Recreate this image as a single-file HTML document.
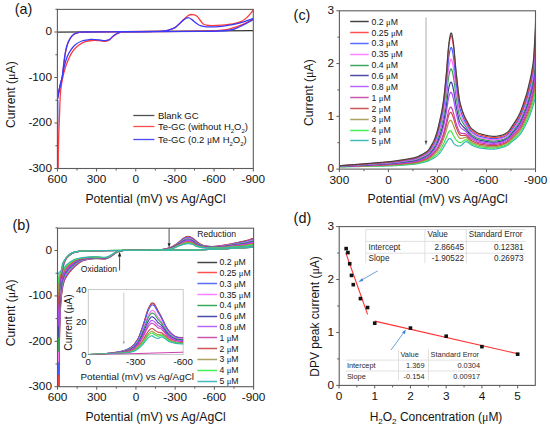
<!DOCTYPE html><html><head><meta charset="utf-8"><style>html,body{margin:0;padding:0;background:#fff;}svg{display:block;}</style></head><body>
<svg width="550" height="429" viewBox="0 0 550 429" font-family='"Liberation Sans", sans-serif'>
<rect width="550" height="429" fill="#ffffff"/>
<clipPath id="ca"><rect x="57.40" y="9.40" width="195.90" height="159.10"/></clipPath>
<g clip-path="url(#ca)">
<line x1="57.40" y1="32.10" x2="253.30" y2="30.60" stroke="#333333" stroke-width="1.3" />
<line x1="57.90" y1="100.00" x2="57.90" y2="170.00" stroke="#4646e6" stroke-width="1.0" />
<path d="M57.20,100.20 C57.47,98.83 58.25,94.70 58.80,92.00 C59.35,89.30 59.92,86.53 60.50,84.00 C61.08,81.47 61.78,79.80 62.30,76.80 C62.82,73.80 63.13,69.63 63.60,66.00 C64.07,62.37 64.55,58.30 65.10,55.00 C65.65,51.70 66.13,48.82 66.90,46.20 C67.67,43.58 68.62,41.22 69.70,39.30 C70.78,37.38 72.00,35.78 73.40,34.70 C74.80,33.62 76.33,33.23 78.10,32.80 C79.87,32.37 77.02,32.27 84.00,32.10 C90.98,31.93 109.00,31.90 120.00,31.80 C131.00,31.70 143.00,31.62 150.00,31.50 C157.00,31.38 158.67,31.42 162.00,31.10 C165.33,30.78 167.83,30.18 170.00,29.60 C172.17,29.02 173.33,28.67 175.00,27.60 C176.67,26.53 178.33,24.77 180.00,23.20 C181.67,21.63 183.50,19.55 185.00,18.20 C186.50,16.85 187.67,15.70 189.00,15.10 C190.33,14.50 191.67,14.42 193.00,14.60 C194.33,14.78 195.83,15.30 197.00,16.20 C198.17,17.10 198.95,18.70 200.00,20.00 C201.05,21.30 201.85,23.08 203.30,24.00 C204.75,24.92 205.62,25.30 208.70,25.50 C211.78,25.70 217.80,25.48 221.80,25.20 C225.80,24.92 229.42,24.43 232.70,23.80 C235.98,23.17 239.13,22.45 241.50,21.40 C243.87,20.35 245.27,18.97 246.90,17.50 C248.53,16.03 250.03,14.18 251.30,12.60 C252.57,11.02 253.97,8.77 254.50,8.00" fill="none" stroke="#ff3b3b" stroke-width="1.3" stroke-linejoin="round" stroke-linecap="round" />
<path d="M58.00,172.00 C58.10,166.67 58.37,149.00 58.60,140.00 C58.83,131.00 59.12,125.50 59.40,118.00 C59.68,110.50 59.93,100.67 60.30,95.00 C60.67,89.33 61.17,87.03 61.60,84.00 C62.03,80.97 62.35,79.30 62.90,76.80 C63.45,74.30 64.22,71.30 64.90,69.00 C65.58,66.70 66.23,65.00 67.00,63.00 C67.77,61.00 68.43,59.10 69.50,57.00 C70.57,54.90 71.82,52.38 73.40,50.40 C74.98,48.42 77.13,46.52 79.00,45.10 C80.87,43.68 82.43,42.67 84.60,41.90 C86.77,41.13 89.52,40.70 92.00,40.50 C94.48,40.30 97.28,40.55 99.50,40.70 C101.72,40.85 103.62,41.53 105.30,41.40 C106.98,41.27 108.15,40.85 109.60,39.90 C111.05,38.95 112.30,36.92 114.00,35.70 C115.70,34.48 117.97,33.23 119.80,32.60 C121.63,31.97 111.63,32.13 125.00,31.90 C138.37,31.67 183.87,31.50 200.00,31.20 C216.13,30.90 216.35,30.65 221.80,30.10 C227.25,29.55 229.07,28.90 232.70,27.90 C236.33,26.90 240.05,25.65 243.60,24.10 C247.15,22.55 252.27,19.52 254.00,18.60" fill="none" stroke="#ff3b3b" stroke-width="1.3" stroke-linejoin="round" stroke-linecap="round" />
<path d="M57.20,100.20 C57.47,98.83 58.25,94.70 58.80,92.00 C59.35,89.30 59.92,86.53 60.50,84.00 C61.08,81.47 61.80,79.80 62.30,76.80 C62.80,73.80 63.07,69.63 63.50,66.00 C63.93,62.37 64.33,58.37 64.90,55.00 C65.47,51.63 66.10,48.45 66.90,45.80 C67.70,43.15 68.62,41.00 69.70,39.10 C70.78,37.20 72.00,35.48 73.40,34.40 C74.80,33.32 76.33,33.00 78.10,32.60 C79.87,32.20 77.02,32.15 84.00,32.00 C90.98,31.85 107.00,31.85 120.00,31.70 C133.00,31.55 153.67,31.45 162.00,31.10 C170.33,30.75 167.83,30.18 170.00,29.60 C172.17,29.02 173.33,28.67 175.00,27.60 C176.67,26.53 178.50,24.53 180.00,23.20 C181.50,21.87 182.67,20.53 184.00,19.60 C185.33,18.67 186.67,17.60 188.00,17.60 C189.33,17.60 190.67,18.70 192.00,19.60 C193.33,20.50 194.67,22.02 196.00,23.00 C197.33,23.98 198.25,24.87 200.00,25.50 C201.75,26.13 202.87,26.67 206.50,26.80 C210.13,26.93 217.43,26.67 221.80,26.30 C226.17,25.93 229.07,25.33 232.70,24.60 C236.33,23.87 240.05,22.97 243.60,21.90 C247.15,20.83 252.27,18.82 254.00,18.20" fill="none" stroke="#3b3bff" stroke-width="1.3" stroke-linejoin="round" stroke-linecap="round" />
<path d="M57.20,99.60 C57.40,98.58 57.88,95.93 58.40,93.50 C58.92,91.07 59.65,87.78 60.30,85.00 C60.95,82.22 61.63,79.97 62.30,76.80 C62.97,73.63 63.47,69.38 64.30,66.00 C65.13,62.62 66.25,59.12 67.30,56.50 C68.35,53.88 69.27,52.27 70.60,50.30 C71.93,48.33 73.43,46.25 75.30,44.70 C77.17,43.15 79.47,41.85 81.80,41.00 C84.13,40.15 87.60,39.87 89.30,39.60 C91.00,39.33 90.30,39.33 92.00,39.40 C93.70,39.47 97.28,39.80 99.50,40.00 C101.72,40.20 103.62,40.72 105.30,40.60 C106.98,40.48 108.15,40.20 109.60,39.30 C111.05,38.40 112.30,36.35 114.00,35.20 C115.70,34.05 117.97,32.95 119.80,32.40 C121.63,31.85 111.63,32.07 125.00,31.90 C138.37,31.73 182.95,31.63 200.00,31.40 C217.05,31.17 220.93,31.17 227.30,30.50 C233.67,29.83 233.75,29.27 238.20,27.40 C242.65,25.53 251.37,20.65 254.00,19.30" fill="none" stroke="#3b3bff" stroke-width="1.3" stroke-linejoin="round" stroke-linecap="round" />
</g>
<rect x="57.40" y="9.40" width="195.90" height="159.10" fill="none" stroke="#5c5c5c" stroke-width="1.1"/>
<line x1="57.40" y1="168.50" x2="57.40" y2="171.50" stroke="#5c5c5c" stroke-width="1.0" />
<text x="57.40" y="182.90" font-size="11.8" text-anchor="middle" fill="#151515" >600</text>
<line x1="96.58" y1="168.50" x2="96.58" y2="171.50" stroke="#5c5c5c" stroke-width="1.0" />
<text x="96.58" y="182.90" font-size="11.8" text-anchor="middle" fill="#151515" >300</text>
<line x1="135.76" y1="168.50" x2="135.76" y2="171.50" stroke="#5c5c5c" stroke-width="1.0" />
<text x="135.76" y="182.90" font-size="11.8" text-anchor="middle" fill="#151515" >0</text>
<line x1="174.94" y1="168.50" x2="174.94" y2="171.50" stroke="#5c5c5c" stroke-width="1.0" />
<text x="174.94" y="182.90" font-size="11.8" text-anchor="middle" fill="#151515" >-300</text>
<line x1="214.12" y1="168.50" x2="214.12" y2="171.50" stroke="#5c5c5c" stroke-width="1.0" />
<text x="214.12" y="182.90" font-size="11.8" text-anchor="middle" fill="#151515" >-600</text>
<line x1="253.30" y1="168.50" x2="253.30" y2="171.50" stroke="#5c5c5c" stroke-width="1.0" />
<text x="253.30" y="182.90" font-size="11.8" text-anchor="middle" fill="#151515" >-900</text>
<line x1="76.99" y1="168.50" x2="76.99" y2="170.50" stroke="#5c5c5c" stroke-width="1.0" />
<line x1="116.17" y1="168.50" x2="116.17" y2="170.50" stroke="#5c5c5c" stroke-width="1.0" />
<line x1="155.35" y1="168.50" x2="155.35" y2="170.50" stroke="#5c5c5c" stroke-width="1.0" />
<line x1="194.53" y1="168.50" x2="194.53" y2="170.50" stroke="#5c5c5c" stroke-width="1.0" />
<line x1="233.71" y1="168.50" x2="233.71" y2="170.50" stroke="#5c5c5c" stroke-width="1.0" />
<line x1="54.40" y1="32.00" x2="57.40" y2="32.00" stroke="#5c5c5c" stroke-width="1.0" />
<text x="52.00" y="35.20" font-size="11.8" text-anchor="end" fill="#151515" >0</text>
<line x1="54.40" y1="77.50" x2="57.40" y2="77.50" stroke="#5c5c5c" stroke-width="1.0" />
<text x="52.00" y="80.70" font-size="11.8" text-anchor="end" fill="#151515" >-100</text>
<line x1="54.40" y1="123.00" x2="57.40" y2="123.00" stroke="#5c5c5c" stroke-width="1.0" />
<text x="52.00" y="126.20" font-size="11.8" text-anchor="end" fill="#151515" >-200</text>
<line x1="54.40" y1="168.50" x2="57.40" y2="168.50" stroke="#5c5c5c" stroke-width="1.0" />
<text x="52.00" y="171.70" font-size="11.8" text-anchor="end" fill="#151515" >-300</text>
<line x1="55.40" y1="9.25" x2="57.40" y2="9.25" stroke="#5c5c5c" stroke-width="1.0" />
<line x1="55.40" y1="54.75" x2="57.40" y2="54.75" stroke="#5c5c5c" stroke-width="1.0" />
<line x1="55.40" y1="100.25" x2="57.40" y2="100.25" stroke="#5c5c5c" stroke-width="1.0" />
<line x1="55.40" y1="145.75" x2="57.40" y2="145.75" stroke="#5c5c5c" stroke-width="1.0" />
<text x="155.50" y="203.00" font-size="12.2" text-anchor="middle" fill="#151515" >Potential (mV) vs Ag/AgCl</text>
<text transform="translate(15.2,94.6) rotate(-90)" font-size="12.2" text-anchor="middle" fill="#151515">Current (<tspan font-family="Liberation Serif, serif">&#956;</tspan>A)</text>
<text x="14.70" y="13.50" font-size="14.4" text-anchor="start" fill="#151515" >(a)</text>
<line x1="133.30" y1="115.50" x2="154.40" y2="115.50" stroke="#505050" stroke-width="1.3" />
<line x1="133.30" y1="126.50" x2="154.40" y2="126.50" stroke="#ff4a4a" stroke-width="1.3" />
<line x1="133.30" y1="139.50" x2="154.40" y2="139.50" stroke="#4a4aff" stroke-width="1.3" />
<text x="157.90" y="118.70" font-size="9.5" text-anchor="start" fill="#151515" >Blank GC</text>
<text x="157.90" y="130.20" font-size="9.5" text-anchor="start" fill="#151515" >Te-GC (without H<tspan font-size="6" dy="2.5">2</tspan><tspan dy="-2.5">O</tspan><tspan font-size="6" dy="2.5">2</tspan><tspan dy="-2.5">)</tspan></text>
<text x="157.90" y="143.30" font-size="9.5" text-anchor="start" fill="#151515" >Te-GC (0.2 <tspan font-family="Liberation Serif, serif">&#956;</tspan>M H<tspan font-size="6" dy="2.5">2</tspan><tspan dy="-2.5">O</tspan><tspan font-size="6" dy="2.5">2</tspan><tspan dy="-2.5">)</tspan></text>
<clipPath id="cb"><rect x="57.50" y="228.20" width="196.10" height="158.50"/></clipPath>
<g clip-path="url(#cb)">
<path d="M59.00,390.00 C59.08,381.67 59.22,354.17 59.50,340.00 C59.78,325.83 60.25,313.33 60.70,305.00 C61.15,296.67 61.62,294.00 62.20,290.00 C62.78,286.00 63.32,283.50 64.20,281.00 C65.08,278.50 66.28,276.83 67.50,275.00 C68.72,273.17 70.13,271.55 71.50,270.00 C72.87,268.45 73.95,267.20 75.70,265.70 C77.45,264.20 79.62,262.13 82.00,261.00 C84.38,259.87 87.57,259.30 90.00,258.90 C92.43,258.50 93.93,258.62 96.60,258.60 C99.27,258.58 103.50,259.23 106.00,258.80 C108.50,258.37 109.77,257.10 111.60,256.00 C113.43,254.90 115.13,253.08 117.00,252.20 C118.87,251.32 120.63,251.00 122.80,250.70 C124.97,250.40 117.13,250.58 130.00,250.40 C142.87,250.22 179.33,250.17 200.00,249.60 C220.67,249.03 245.00,247.43 254.00,247.00" fill="none" stroke="#444444" stroke-width="1.1" stroke-linejoin="round" stroke-linecap="round" />
<path d="M58.97,387.19 C59.06,379.06 59.20,352.24 59.49,338.42 C59.77,324.59 60.24,312.39 60.69,304.25 C61.15,296.10 61.62,293.46 62.20,289.54 C62.78,285.61 63.32,283.14 64.19,280.67 C65.07,278.21 66.26,276.56 67.47,274.75 C68.69,272.94 70.10,271.33 71.46,269.80 C72.82,268.27 73.90,267.04 75.63,265.56 C77.37,264.09 79.47,262.06 81.87,260.94 C84.26,259.82 87.54,259.25 90.00,258.85 C92.46,258.45 93.93,258.57 96.60,258.55 C99.27,258.54 103.50,259.19 106.00,258.76 C108.50,258.33 109.77,257.07 111.60,255.97 C113.43,254.87 115.13,253.06 117.00,252.18 C118.87,251.30 120.63,250.99 122.80,250.69 C124.97,250.40 117.13,250.58 130.00,250.40 C142.87,250.22 179.33,250.17 200.00,249.61 C220.67,249.04 245.00,247.44 254.00,247.01" fill="none" stroke="#ff4040" stroke-width="1.1" stroke-linejoin="round" stroke-linecap="round" />
<path d="M58.85,374.80 C58.95,367.58 59.13,343.76 59.43,331.45 C59.74,319.14 60.21,308.26 60.67,300.93 C61.13,293.60 61.62,291.11 62.20,287.49 C62.78,283.87 63.31,281.54 64.17,279.24 C65.03,276.93 66.18,275.36 67.36,273.64 C68.55,271.93 69.94,270.39 71.27,268.94 C72.60,267.50 73.66,266.34 75.33,264.97 C77.00,263.59 78.85,261.74 81.29,260.69 C83.74,259.63 87.45,259.02 90.00,258.63 C92.55,258.24 93.93,258.36 96.60,258.36 C99.27,258.35 103.50,259.02 106.00,258.60 C108.50,258.18 109.77,256.92 111.60,255.84 C113.43,254.75 115.13,252.95 117.00,252.09 C118.87,251.23 120.63,250.94 122.80,250.66 C124.97,250.38 117.13,250.56 130.00,250.39 C142.87,250.22 179.33,250.20 200.00,249.64 C220.67,249.08 245.00,247.46 254.00,247.03" fill="none" stroke="#4a5cff" stroke-width="1.1" stroke-linejoin="round" stroke-linecap="round" />
<path d="M58.73,362.42 C58.84,356.10 59.06,335.29 59.38,324.49 C59.70,313.69 60.18,304.12 60.65,297.61 C61.12,291.11 61.62,288.75 62.20,285.44 C62.78,282.14 63.31,279.95 64.15,277.80 C64.99,275.65 66.10,274.16 67.25,272.54 C68.41,270.92 69.78,269.44 71.08,268.08 C72.38,266.72 73.43,265.64 75.04,264.37 C76.64,263.10 78.23,261.43 80.72,260.43 C83.21,259.44 87.35,258.79 90.00,258.41 C92.65,258.03 93.93,258.15 96.60,258.16 C99.27,258.16 103.50,258.84 106.00,258.43 C108.50,258.02 109.77,256.78 111.60,255.70 C113.43,254.63 115.13,252.85 117.00,252.00 C118.87,251.16 120.63,250.90 122.80,250.63 C124.97,250.35 117.13,250.53 130.00,250.38 C142.87,250.22 179.33,250.23 200.00,249.67 C220.67,249.12 245.00,247.49 254.00,247.05" fill="none" stroke="#ff70ff" stroke-width="1.1" stroke-linejoin="round" stroke-linecap="round" />
<path d="M58.63,352.29 C58.75,346.71 59.00,328.35 59.33,318.79 C59.67,309.22 60.15,300.74 60.63,294.90 C61.11,289.06 61.62,286.82 62.20,283.77 C62.78,280.73 63.31,278.65 64.13,276.62 C64.96,274.60 66.03,273.17 67.16,271.63 C68.30,270.09 69.66,268.67 70.93,267.37 C72.20,266.08 73.24,265.07 74.79,263.88 C76.34,262.69 77.71,261.17 80.25,260.23 C82.78,259.28 87.27,258.60 90.00,258.23 C92.73,257.85 93.93,257.98 96.60,257.99 C99.27,258.01 103.50,258.69 106.00,258.29 C108.50,257.90 109.77,256.66 111.60,255.60 C113.43,254.54 115.13,252.76 117.00,251.93 C118.87,251.10 120.63,250.86 122.80,250.60 C124.97,250.34 117.13,250.52 130.00,250.37 C142.87,250.22 179.33,250.25 200.00,249.70 C220.67,249.15 245.00,247.51 254.00,247.07" fill="none" stroke="#2fa34f" stroke-width="1.1" stroke-linejoin="round" stroke-linecap="round" />
<path d="M58.49,338.22 C58.62,333.66 58.92,318.72 59.27,310.87 C59.62,303.03 60.12,296.04 60.61,291.13 C61.10,286.23 61.62,284.14 62.20,281.45 C62.78,278.76 63.30,276.84 64.11,274.99 C64.91,273.14 65.94,271.81 67.04,270.38 C68.14,268.94 69.48,267.59 70.71,266.39 C71.95,265.20 72.97,264.28 74.45,263.20 C75.93,262.13 77.00,260.81 79.60,259.94 C82.19,259.07 87.17,258.34 90.00,257.98 C92.83,257.61 93.93,257.75 96.60,257.77 C99.27,257.79 103.50,258.49 106.00,258.11 C108.50,257.72 109.77,256.49 111.60,255.45 C113.43,254.40 115.13,252.64 117.00,251.83 C118.87,251.02 120.63,250.81 122.80,250.56 C124.97,250.32 117.13,250.49 130.00,250.35 C142.87,250.22 179.33,250.28 200.00,249.74 C220.67,249.20 245.00,247.53 254.00,247.09" fill="none" stroke="#3f3fa6" stroke-width="1.1" stroke-linejoin="round" stroke-linecap="round" />
<path d="M58.39,327.53 C58.53,323.75 58.85,311.40 59.22,304.86 C59.59,298.32 60.09,292.46 60.59,288.27 C61.08,284.07 61.62,282.10 62.20,279.68 C62.78,277.26 63.30,275.46 64.09,273.75 C64.88,272.04 65.86,270.77 66.94,269.42 C68.02,268.07 69.34,266.77 70.55,265.65 C71.76,264.53 72.77,263.68 74.19,262.69 C75.62,261.70 76.47,260.53 79.10,259.72 C81.73,258.90 87.08,258.14 90.00,257.78 C92.92,257.43 93.93,257.57 96.60,257.60 C99.27,257.63 103.50,258.34 106.00,257.96 C108.50,257.59 109.77,256.37 111.60,255.33 C113.43,254.30 115.13,252.55 117.00,251.75 C118.87,250.95 120.63,250.77 122.80,250.53 C124.97,250.30 117.13,250.47 130.00,250.34 C142.87,250.22 179.33,250.31 200.00,249.77 C220.67,249.23 245.00,247.55 254.00,247.11" fill="none" stroke="#b04cff" stroke-width="1.1" stroke-linejoin="round" stroke-linecap="round" />
<path d="M58.23,311.77 C58.38,309.14 58.76,300.62 59.15,295.99 C59.54,291.37 60.05,287.20 60.56,284.05 C61.07,280.89 61.62,279.10 62.20,277.08 C62.78,275.06 63.29,273.43 64.06,271.92 C64.83,270.41 65.76,269.24 66.80,268.02 C67.84,266.79 69.14,265.57 70.31,264.55 C71.48,263.54 72.47,262.79 73.81,261.93 C75.16,261.07 75.67,260.13 78.37,259.39 C81.07,258.66 86.96,257.84 90.00,257.50 C93.04,257.16 93.93,257.30 96.60,257.34 C99.27,257.38 103.50,258.12 106.00,257.75 C108.50,257.39 109.77,256.18 111.60,255.16 C113.43,254.14 115.13,252.42 117.00,251.64 C118.87,250.86 120.63,250.71 122.80,250.49 C124.97,250.27 117.13,250.44 130.00,250.33 C142.87,250.22 179.33,250.34 200.00,249.81 C220.67,249.28 245.00,247.58 254.00,247.14" fill="none" stroke="#cc3fae" stroke-width="1.1" stroke-linejoin="round" stroke-linecap="round" />
<path d="M58.18,306.14 C58.33,303.92 58.73,296.76 59.13,292.83 C59.52,288.90 60.04,285.32 60.55,282.54 C61.06,279.76 61.62,278.03 62.20,276.15 C62.78,274.27 63.29,272.71 64.05,271.27 C64.81,269.83 65.72,268.70 66.75,267.51 C67.78,266.33 69.07,265.14 70.23,264.16 C71.38,263.18 72.37,262.47 73.68,261.66 C74.99,260.84 75.39,259.99 78.11,259.28 C80.83,258.57 86.92,257.74 90.00,257.40 C93.08,257.06 93.93,257.21 96.60,257.25 C99.27,257.30 103.50,258.04 106.00,257.68 C108.50,257.32 109.77,256.11 111.60,255.10 C113.43,254.09 115.13,252.37 117.00,251.60 C118.87,250.83 120.63,250.69 122.80,250.48 C124.97,250.26 117.13,250.43 130.00,250.33 C142.87,250.22 179.33,250.35 200.00,249.82 C220.67,249.30 245.00,247.60 254.00,247.15" fill="none" stroke="#c84848" stroke-width="1.1" stroke-linejoin="round" stroke-linecap="round" />
<path d="M58.09,297.70 C58.26,296.10 58.68,290.98 59.09,288.08 C59.49,285.18 60.02,282.50 60.54,280.28 C61.05,278.06 61.62,276.42 62.20,274.75 C62.78,273.09 63.29,271.62 64.04,270.29 C64.78,268.95 65.67,267.88 66.68,266.76 C67.69,265.64 68.97,264.49 70.10,263.57 C71.23,262.65 72.21,261.99 73.47,261.25 C74.74,260.51 74.96,259.77 77.71,259.10 C80.47,258.44 86.85,257.58 90.00,257.25 C93.15,256.92 93.93,257.06 96.60,257.12 C99.27,257.17 103.50,257.91 106.00,257.56 C108.50,257.21 109.77,256.01 111.60,255.01 C113.43,254.01 115.13,252.30 117.00,251.54 C118.87,250.78 120.63,250.66 122.80,250.45 C124.97,250.25 117.13,250.42 130.00,250.32 C142.87,250.22 179.33,250.37 200.00,249.85 C220.67,249.32 245.00,247.61 254.00,247.16" fill="none" stroke="#a89a4a" stroke-width="1.1" stroke-linejoin="round" stroke-linecap="round" />
<path d="M57.98,286.44 C58.16,285.66 58.62,283.28 59.04,281.75 C59.46,280.22 59.99,278.74 60.52,277.26 C61.04,275.79 61.62,274.27 62.20,272.89 C62.78,271.51 63.29,270.17 64.02,268.98 C64.74,267.79 65.59,266.79 66.58,265.75 C67.56,264.72 68.82,263.63 69.93,262.79 C71.03,261.95 71.99,261.36 73.20,260.71 C74.41,260.05 74.39,259.48 77.19,258.87 C79.99,258.26 86.77,257.37 90.00,257.05 C93.23,256.73 93.93,256.88 96.60,256.94 C99.27,257.00 103.50,257.75 106.00,257.41 C108.50,257.07 109.77,255.88 111.60,254.89 C113.43,253.90 115.13,252.20 117.00,251.46 C118.87,250.72 120.63,250.61 122.80,250.42 C124.97,250.23 117.13,250.40 130.00,250.31 C142.87,250.22 179.33,250.40 200.00,249.88 C220.67,249.36 245.00,247.63 254.00,247.18" fill="none" stroke="#3ee84a" stroke-width="1.1" stroke-linejoin="round" stroke-linecap="round" />
<path d="M57.90,278.00 C58.08,277.83 58.57,277.50 59.00,277.00 C59.43,276.50 59.97,275.92 60.50,275.00 C61.03,274.08 61.62,272.67 62.20,271.50 C62.78,270.33 63.28,269.08 64.00,268.00 C64.72,266.92 65.53,265.97 66.50,265.00 C67.47,264.03 68.72,262.98 69.80,262.20 C70.88,261.42 71.83,260.88 73.00,260.30 C74.17,259.72 73.97,259.27 76.80,258.70 C79.63,258.13 86.70,257.22 90.00,256.90 C93.30,256.58 93.93,256.73 96.60,256.80 C99.27,256.87 103.50,257.63 106.00,257.30 C108.50,256.97 109.77,255.78 111.60,254.80 C113.43,253.82 115.13,252.13 117.00,251.40 C118.87,250.67 120.63,250.58 122.80,250.40 C124.97,250.22 117.13,250.38 130.00,250.30 C142.87,250.22 179.33,250.42 200.00,249.90 C220.67,249.38 245.00,247.65 254.00,247.20" fill="none" stroke="#36b3b3" stroke-width="1.1" stroke-linejoin="round" stroke-linecap="round" />
<path d="M58.60,390.00 C58.67,381.67 58.78,355.00 59.00,340.00 C59.22,325.00 59.50,310.00 59.90,300.00 C60.30,290.00 60.95,285.00 61.40,280.00 C61.85,275.00 62.13,272.83 62.60,270.00 C63.07,267.17 63.43,265.08 64.20,263.00 C64.97,260.92 65.73,259.17 67.20,257.50 C68.67,255.83 70.87,254.03 73.00,253.00 C75.13,251.97 77.17,251.67 80.00,251.30 C82.83,250.93 83.33,250.93 90.00,250.80 C96.67,250.67 107.50,250.63 120.00,250.50 C132.50,250.37 157.50,250.08 165.00,250.00" fill="none" stroke="#444444" stroke-width="1.1" stroke-linejoin="round" stroke-linecap="round" />
<path d="M58.58,387.11 C58.65,378.98 58.77,352.95 58.99,338.32 C59.21,323.68 59.49,309.06 59.89,299.30 C60.29,289.54 60.94,284.66 61.39,279.76 C61.84,274.87 62.12,272.72 62.58,269.92 C63.05,267.13 63.40,265.08 64.16,263.01 C64.93,260.94 65.71,259.17 67.18,257.50 C68.65,255.83 70.85,254.03 72.98,252.99 C75.11,251.96 77.14,251.67 79.98,251.30 C82.82,250.93 83.33,250.93 90.00,250.80 C96.67,250.66 107.50,250.63 120.00,250.50 C132.50,250.36 157.50,250.09 165.00,250.00" fill="none" stroke="#ff4040" stroke-width="1.1" stroke-linejoin="round" stroke-linecap="round" />
<path d="M58.51,374.40 C58.58,367.15 58.74,343.94 58.96,330.91 C59.18,317.88 59.45,304.90 59.85,296.20 C60.25,287.50 60.91,283.15 61.36,278.71 C61.80,274.28 62.08,272.20 62.52,269.59 C62.96,266.98 63.25,265.06 64.01,263.04 C64.77,261.03 65.60,259.18 67.08,257.50 C68.56,255.82 70.76,254.01 72.89,252.97 C75.03,251.94 77.04,251.66 79.89,251.30 C82.74,250.94 83.32,250.92 90.00,250.79 C96.68,250.65 107.50,250.62 120.00,250.49 C132.50,250.36 157.50,250.09 165.00,250.01" fill="none" stroke="#4a5cff" stroke-width="1.1" stroke-linejoin="round" stroke-linecap="round" />
<path d="M58.43,361.68 C58.51,355.32 58.70,334.93 58.93,323.50 C59.16,312.07 59.40,300.75 59.80,293.11 C60.20,285.47 60.88,281.63 61.33,277.66 C61.77,273.69 62.03,271.69 62.45,269.26 C62.87,266.83 63.10,265.03 63.86,263.07 C64.61,261.11 65.49,259.19 66.98,257.50 C68.47,255.81 70.67,253.98 72.80,252.95 C74.94,251.92 76.94,251.66 79.80,251.30 C82.67,250.94 83.30,250.91 90.00,250.78 C96.70,250.64 107.50,250.60 120.00,250.48 C132.50,250.35 157.50,250.10 165.00,250.02" fill="none" stroke="#ff70ff" stroke-width="1.1" stroke-linejoin="round" stroke-linecap="round" />
<path d="M58.36,351.28 C58.45,345.64 58.67,327.56 58.90,317.44 C59.13,307.32 59.37,297.35 59.77,290.57 C60.17,283.80 60.86,280.40 61.30,276.80 C61.74,273.20 61.99,271.27 62.40,268.99 C62.80,266.71 62.98,265.02 63.73,263.10 C64.48,261.19 65.40,259.19 66.90,257.50 C68.40,255.81 70.59,253.97 72.73,252.93 C74.87,251.90 76.85,251.66 79.73,251.30 C82.61,250.94 83.29,250.91 90.00,250.77 C96.71,250.63 107.50,250.59 120.00,250.47 C132.50,250.34 157.50,250.11 165.00,250.03" fill="none" stroke="#2fa34f" stroke-width="1.1" stroke-linejoin="round" stroke-linecap="round" />
<path d="M58.28,336.83 C58.37,332.20 58.62,317.32 58.86,309.03 C59.10,300.73 59.32,292.62 59.72,287.06 C60.12,281.49 60.83,278.68 61.26,275.61 C61.70,272.53 61.94,270.69 62.32,268.61 C62.70,266.53 62.81,264.99 63.55,263.14 C64.30,261.29 65.27,259.21 66.78,257.50 C68.30,255.79 70.49,253.94 72.63,252.91 C74.77,251.87 76.74,251.66 79.63,251.30 C82.53,250.94 83.27,250.89 90.00,250.75 C96.73,250.61 107.50,250.57 120.00,250.45 C132.50,250.34 157.50,250.11 165.00,250.05" fill="none" stroke="#3f3fa6" stroke-width="1.1" stroke-linejoin="round" stroke-linecap="round" />
<path d="M58.21,325.85 C58.31,321.98 58.59,309.54 58.83,302.63 C59.08,295.72 59.28,289.04 59.68,284.38 C60.08,279.73 60.80,277.38 61.23,274.70 C61.66,272.03 61.90,270.25 62.27,268.33 C62.63,266.40 62.68,264.97 63.42,263.17 C64.16,261.36 65.18,259.21 66.70,257.50 C68.22,255.79 70.41,253.92 72.55,252.89 C74.70,251.86 76.65,251.66 79.55,251.30 C82.46,250.94 83.26,250.89 90.00,250.74 C96.74,250.60 107.50,250.56 120.00,250.44 C132.50,250.33 157.50,250.12 165.00,250.06" fill="none" stroke="#b04cff" stroke-width="1.1" stroke-linejoin="round" stroke-linecap="round" />
<path d="M58.11,309.67 C58.22,306.93 58.54,298.07 58.79,293.20 C59.04,288.33 59.22,283.75 59.62,280.44 C60.02,277.14 60.76,275.45 61.19,273.36 C61.62,271.27 61.84,269.60 62.18,267.90 C62.52,266.21 62.49,264.94 63.22,263.21 C63.95,261.48 65.03,259.22 66.57,257.50 C68.11,255.78 70.30,253.89 72.44,252.86 C74.59,251.83 76.51,251.66 79.44,251.30 C82.37,250.94 83.24,250.88 90.00,250.73 C96.76,250.59 107.50,250.54 120.00,250.43 C132.50,250.32 157.50,250.13 165.00,250.07" fill="none" stroke="#cc3fae" stroke-width="1.1" stroke-linejoin="round" stroke-linecap="round" />
<path d="M58.08,303.89 C58.19,301.55 58.52,293.98 58.78,289.83 C59.03,285.69 59.20,281.86 59.60,279.04 C60.00,276.21 60.75,274.77 61.18,272.89 C61.60,271.01 61.82,269.36 62.15,267.75 C62.48,266.14 62.42,264.93 63.15,263.22 C63.88,261.52 64.98,259.23 66.53,257.50 C68.07,255.77 70.26,253.88 72.40,252.85 C74.55,251.82 76.47,251.65 79.40,251.30 C82.33,250.95 83.23,250.87 90.00,250.73 C96.77,250.58 107.50,250.53 120.00,250.43 C132.50,250.32 157.50,250.13 165.00,250.07" fill="none" stroke="#c84848" stroke-width="1.1" stroke-linejoin="round" stroke-linecap="round" />
<path d="M58.02,295.23 C58.14,293.49 58.49,287.83 58.75,284.78 C59.01,281.73 59.17,279.03 59.57,276.92 C59.97,274.82 60.73,273.74 61.15,272.17 C61.58,270.60 61.79,269.01 62.11,267.53 C62.42,266.04 62.32,264.92 63.05,263.25 C63.77,261.58 64.91,259.24 66.46,257.50 C68.01,255.76 70.19,253.87 72.34,252.84 C74.49,251.80 76.40,251.65 79.34,251.30 C82.28,250.95 83.22,250.86 90.00,250.72 C96.78,250.57 107.50,250.52 120.00,250.42 C132.50,250.31 157.50,250.14 165.00,250.08" fill="none" stroke="#a89a4a" stroke-width="1.1" stroke-linejoin="round" stroke-linecap="round" />
<path d="M57.95,283.67 C58.08,282.73 58.46,279.64 58.72,278.05 C58.99,276.46 59.13,275.25 59.53,274.11 C59.93,272.97 60.70,272.36 61.12,271.22 C61.54,270.07 61.75,268.55 62.05,267.23 C62.34,265.90 62.19,264.90 62.91,263.28 C63.63,261.66 64.81,259.24 66.37,257.50 C67.93,255.76 70.11,253.85 72.26,252.82 C74.41,251.78 76.30,251.65 79.26,251.30 C82.22,250.95 83.21,250.86 90.00,250.71 C96.79,250.56 107.50,250.51 120.00,250.41 C132.50,250.31 157.50,250.14 165.00,250.09" fill="none" stroke="#3ee84a" stroke-width="1.1" stroke-linejoin="round" stroke-linecap="round" />
<path d="M57.90,275.00 C58.03,274.67 58.43,273.50 58.70,273.00 C58.97,272.50 59.10,272.42 59.50,272.00 C59.90,271.58 60.68,271.33 61.10,270.50 C61.52,269.67 61.72,268.20 62.00,267.00 C62.28,265.80 62.08,264.88 62.80,263.30 C63.52,261.72 64.73,259.25 66.30,257.50 C67.87,255.75 70.05,253.83 72.20,252.80 C74.35,251.77 76.23,251.65 79.20,251.30 C82.17,250.95 83.20,250.85 90.00,250.70 C96.80,250.55 107.50,250.50 120.00,250.40 C132.50,250.30 157.50,250.15 165.00,250.10" fill="none" stroke="#36b3b3" stroke-width="1.1" stroke-linejoin="round" stroke-linecap="round" />
<path d="M150.00,250.10 C152.00,250.02 158.52,250.07 162.00,249.60 C165.48,249.13 168.20,248.45 170.90,247.30 C173.60,246.15 176.08,244.22 178.20,242.70 C180.32,241.18 181.93,239.25 183.60,238.20 C185.27,237.15 186.68,236.40 188.20,236.40 C189.72,236.40 191.03,237.15 192.70,238.20 C194.37,239.25 196.38,241.48 198.20,242.70 C200.02,243.92 200.88,244.88 203.60,245.50 C206.32,246.12 209.65,246.72 214.50,246.40 C219.35,246.08 227.53,244.52 232.70,243.60 C237.87,242.68 241.95,241.83 245.50,240.90 C249.05,239.97 252.58,238.48 254.00,238.00" fill="none" stroke="#444444" stroke-width="1.1" stroke-linejoin="round" stroke-linecap="round" />
<path d="M150.00,250.10 C152.00,250.02 158.52,250.07 162.00,249.61 C165.48,249.15 168.20,248.48 170.90,247.35 C173.60,246.21 176.08,244.29 178.20,242.79 C180.32,241.30 181.93,239.39 183.60,238.36 C185.27,237.32 186.68,236.58 188.20,236.58 C189.72,236.58 191.04,237.32 192.70,238.36 C194.36,239.39 196.34,241.59 198.15,242.79 C199.97,243.99 200.88,244.94 203.60,245.55 C206.32,246.16 209.65,246.76 214.50,246.45 C219.35,246.14 227.53,244.59 232.70,243.69 C237.87,242.79 241.95,241.96 245.50,241.04 C249.05,240.12 252.58,238.66 254.00,238.19" fill="none" stroke="#ff4040" stroke-width="1.1" stroke-linejoin="round" stroke-linecap="round" />
<path d="M150.00,250.10 C152.00,250.02 158.52,250.07 162.00,249.64 C165.48,249.21 168.20,248.62 170.90,247.54 C173.60,246.47 176.08,244.62 178.20,243.20 C180.32,241.79 181.93,240.03 183.60,239.05 C185.27,238.08 186.68,237.38 188.20,237.38 C189.72,237.38 191.07,238.08 192.70,239.05 C194.33,240.03 196.14,242.08 197.96,243.20 C199.77,244.32 200.84,245.21 203.60,245.78 C206.36,246.36 209.65,246.92 214.50,246.64 C219.35,246.36 227.53,244.94 232.70,244.10 C237.87,243.27 241.95,242.49 245.50,241.65 C249.05,240.80 252.58,239.46 254.00,239.02" fill="none" stroke="#4a5cff" stroke-width="1.1" stroke-linejoin="round" stroke-linecap="round" />
<path d="M150.00,250.10 C152.00,250.03 158.52,250.07 162.00,249.67 C165.48,249.28 168.20,248.75 170.90,247.74 C173.60,246.73 176.08,244.94 178.20,243.61 C180.32,242.28 181.93,240.66 183.60,239.75 C185.27,238.84 186.68,238.17 188.20,238.17 C189.72,238.17 191.11,238.84 192.70,239.75 C194.29,240.66 195.94,242.57 197.76,243.61 C199.57,244.66 200.81,245.48 203.60,246.02 C206.39,246.56 209.65,247.09 214.50,246.84 C219.35,246.59 227.53,245.28 232.70,244.51 C237.87,243.75 241.95,243.03 245.50,242.25 C249.05,241.48 252.58,240.25 254.00,239.85" fill="none" stroke="#ff70ff" stroke-width="1.1" stroke-linejoin="round" stroke-linecap="round" />
<path d="M150.00,250.10 C152.00,250.03 158.52,250.07 162.00,249.70 C165.48,249.34 168.20,248.87 170.90,247.91 C173.60,246.95 176.08,245.21 178.20,243.95 C180.32,242.68 181.93,241.17 183.60,240.32 C185.27,239.47 186.68,238.82 188.20,238.82 C189.72,238.82 191.13,239.47 192.70,240.32 C194.27,241.17 195.78,242.96 197.59,243.95 C199.41,244.93 200.78,245.70 203.60,246.21 C206.42,246.72 209.65,247.23 214.50,247.01 C219.35,246.78 227.53,245.55 232.70,244.85 C237.87,244.14 241.95,243.47 245.50,242.75 C249.05,242.03 252.58,240.90 254.00,240.53" fill="none" stroke="#2fa34f" stroke-width="1.1" stroke-linejoin="round" stroke-linecap="round" />
<path d="M150.00,250.10 C152.00,250.04 158.52,250.07 162.00,249.74 C165.48,249.41 168.20,249.02 170.90,248.13 C173.60,247.24 176.08,245.58 178.20,244.41 C180.32,243.24 181.93,241.89 183.60,241.11 C185.27,240.33 186.68,239.73 188.20,239.73 C189.72,239.73 191.17,240.33 192.70,241.11 C194.23,241.89 195.55,243.52 197.37,244.41 C199.18,245.30 200.74,246.00 203.60,246.47 C206.46,246.94 209.65,247.43 214.50,247.23 C219.35,247.04 227.53,245.94 232.70,245.31 C237.87,244.68 241.95,244.08 245.50,243.44 C249.05,242.80 252.58,241.80 254.00,241.47" fill="none" stroke="#3f3fa6" stroke-width="1.1" stroke-linejoin="round" stroke-linecap="round" />
<path d="M150.00,250.10 C152.00,250.04 158.52,250.07 162.00,249.77 C165.48,249.47 168.20,249.14 170.90,248.30 C173.60,247.47 176.08,245.86 178.20,244.76 C180.32,243.67 181.93,242.44 183.60,241.71 C185.27,240.99 186.68,240.42 188.20,240.42 C189.72,240.42 191.20,240.99 192.70,241.71 C194.20,242.44 195.38,243.94 197.20,244.76 C199.01,245.59 200.72,246.23 203.60,246.67 C206.48,247.11 209.65,247.57 214.50,247.40 C219.35,247.24 227.53,246.24 232.70,245.66 C237.87,245.09 241.95,244.55 245.50,243.97 C249.05,243.39 252.58,242.48 254.00,242.18" fill="none" stroke="#b04cff" stroke-width="1.1" stroke-linejoin="round" stroke-linecap="round" />
<path d="M150.00,250.10 C152.00,250.05 158.52,250.07 162.00,249.81 C165.48,249.55 168.20,249.31 170.90,248.56 C173.60,247.80 176.08,246.28 178.20,245.28 C180.32,244.29 181.93,243.24 183.60,242.60 C185.27,241.96 186.68,241.43 188.20,241.43 C189.72,241.43 191.24,241.96 192.70,242.60 C194.16,243.24 195.13,244.56 196.94,245.28 C198.76,246.01 200.67,246.57 203.60,246.97 C206.53,247.36 209.65,247.79 214.50,247.66 C219.35,247.53 227.53,246.67 232.70,246.18 C237.87,245.70 241.95,245.23 245.50,244.74 C249.05,244.25 252.58,243.49 254.00,243.24" fill="none" stroke="#cc3fae" stroke-width="1.1" stroke-linejoin="round" stroke-linecap="round" />
<path d="M150.00,250.10 C152.00,250.05 158.52,250.07 162.00,249.82 C165.48,249.58 168.20,249.37 170.90,248.65 C173.60,247.92 176.08,246.43 178.20,245.47 C180.32,244.52 181.93,243.53 183.60,242.92 C185.27,242.30 186.68,241.79 188.20,241.79 C189.72,241.79 191.26,242.30 192.70,242.92 C194.14,243.53 195.04,244.78 196.85,245.47 C198.67,246.16 200.66,246.69 203.60,247.07 C206.54,247.45 209.65,247.86 214.50,247.75 C219.35,247.63 227.53,246.83 232.70,246.37 C237.87,245.92 241.95,245.48 245.50,245.02 C249.05,244.56 252.58,243.85 254.00,243.62" fill="none" stroke="#c84848" stroke-width="1.1" stroke-linejoin="round" stroke-linecap="round" />
<path d="M150.00,250.10 C152.00,250.06 158.52,250.07 162.00,249.85 C165.48,249.63 168.20,249.47 170.90,248.78 C173.60,248.10 176.08,246.65 178.20,245.75 C180.32,244.85 181.93,243.96 183.60,243.39 C185.27,242.82 186.68,242.33 188.20,242.33 C189.72,242.33 191.28,242.82 192.70,243.39 C194.12,243.96 194.90,245.11 196.72,245.75 C198.53,246.39 200.64,246.87 203.60,247.23 C206.56,247.59 209.65,247.98 214.50,247.88 C219.35,247.79 227.53,247.06 232.70,246.65 C237.87,246.24 241.95,245.84 245.50,245.43 C249.05,245.02 252.58,244.39 254.00,244.18" fill="none" stroke="#a89a4a" stroke-width="1.1" stroke-linejoin="round" stroke-linecap="round" />
<path d="M150.00,250.10 C152.00,250.06 158.52,250.07 162.00,249.88 C165.48,249.69 168.20,249.59 170.90,248.96 C173.60,248.34 176.08,246.94 178.20,246.12 C180.32,245.30 181.93,244.54 183.60,244.03 C185.27,243.51 186.68,243.06 188.20,243.06 C189.72,243.06 191.31,243.51 192.70,244.03 C194.09,244.54 194.72,245.55 196.54,246.12 C198.35,246.69 200.61,247.12 203.60,247.44 C206.59,247.77 209.65,248.13 214.50,248.06 C219.35,247.99 227.53,247.37 232.70,247.02 C237.87,246.67 241.95,246.33 245.50,245.99 C249.05,245.64 252.58,245.11 254.00,244.93" fill="none" stroke="#3ee84a" stroke-width="1.1" stroke-linejoin="round" stroke-linecap="round" />
<path d="M150.00,250.10 C152.00,250.07 158.52,250.07 162.00,249.90 C165.48,249.73 168.20,249.68 170.90,249.10 C173.60,248.52 176.08,247.17 178.20,246.40 C180.32,245.63 181.93,244.97 183.60,244.50 C185.27,244.03 186.68,243.60 188.20,243.60 C189.72,243.60 191.33,244.03 192.70,244.50 C194.07,244.97 194.58,245.88 196.40,246.40 C198.22,246.92 200.58,247.30 203.60,247.60 C206.62,247.90 209.65,248.25 214.50,248.20 C219.35,248.15 227.53,247.60 232.70,247.30 C237.87,247.00 241.95,246.70 245.50,246.40 C249.05,246.10 252.58,245.65 254.00,245.50" fill="none" stroke="#36b3b3" stroke-width="1.1" stroke-linejoin="round" stroke-linecap="round" />
</g>
<rect x="57.50" y="228.20" width="196.10" height="158.50" fill="none" stroke="#5c5c5c" stroke-width="1.1"/>
<line x1="57.50" y1="386.70" x2="57.50" y2="389.70" stroke="#5c5c5c" stroke-width="1.0" />
<text x="57.50" y="400.80" font-size="11.8" text-anchor="middle" fill="#151515" >600</text>
<line x1="96.72" y1="386.70" x2="96.72" y2="389.70" stroke="#5c5c5c" stroke-width="1.0" />
<text x="96.72" y="400.80" font-size="11.8" text-anchor="middle" fill="#151515" >300</text>
<line x1="135.94" y1="386.70" x2="135.94" y2="389.70" stroke="#5c5c5c" stroke-width="1.0" />
<text x="135.94" y="400.80" font-size="11.8" text-anchor="middle" fill="#151515" >0</text>
<line x1="175.16" y1="386.70" x2="175.16" y2="389.70" stroke="#5c5c5c" stroke-width="1.0" />
<text x="175.16" y="400.80" font-size="11.8" text-anchor="middle" fill="#151515" >-300</text>
<line x1="214.38" y1="386.70" x2="214.38" y2="389.70" stroke="#5c5c5c" stroke-width="1.0" />
<text x="214.38" y="400.80" font-size="11.8" text-anchor="middle" fill="#151515" >-600</text>
<line x1="253.60" y1="386.70" x2="253.60" y2="389.70" stroke="#5c5c5c" stroke-width="1.0" />
<text x="253.60" y="400.80" font-size="11.8" text-anchor="middle" fill="#151515" >-900</text>
<line x1="77.11" y1="386.70" x2="77.11" y2="388.70" stroke="#5c5c5c" stroke-width="1.0" />
<line x1="116.33" y1="386.70" x2="116.33" y2="388.70" stroke="#5c5c5c" stroke-width="1.0" />
<line x1="155.55" y1="386.70" x2="155.55" y2="388.70" stroke="#5c5c5c" stroke-width="1.0" />
<line x1="194.77" y1="386.70" x2="194.77" y2="388.70" stroke="#5c5c5c" stroke-width="1.0" />
<line x1="233.99" y1="386.70" x2="233.99" y2="388.70" stroke="#5c5c5c" stroke-width="1.0" />
<line x1="54.50" y1="250.50" x2="57.50" y2="250.50" stroke="#5c5c5c" stroke-width="1.0" />
<text x="52.00" y="253.70" font-size="11.8" text-anchor="end" fill="#151515" >0</text>
<line x1="54.50" y1="295.90" x2="57.50" y2="295.90" stroke="#5c5c5c" stroke-width="1.0" />
<text x="52.00" y="299.10" font-size="11.8" text-anchor="end" fill="#151515" >-100</text>
<line x1="54.50" y1="341.30" x2="57.50" y2="341.30" stroke="#5c5c5c" stroke-width="1.0" />
<text x="52.00" y="344.50" font-size="11.8" text-anchor="end" fill="#151515" >-200</text>
<line x1="54.50" y1="386.70" x2="57.50" y2="386.70" stroke="#5c5c5c" stroke-width="1.0" />
<text x="52.00" y="389.90" font-size="11.8" text-anchor="end" fill="#151515" >-300</text>
<line x1="55.50" y1="227.80" x2="57.50" y2="227.80" stroke="#5c5c5c" stroke-width="1.0" />
<line x1="55.50" y1="273.20" x2="57.50" y2="273.20" stroke="#5c5c5c" stroke-width="1.0" />
<line x1="55.50" y1="318.60" x2="57.50" y2="318.60" stroke="#5c5c5c" stroke-width="1.0" />
<line x1="55.50" y1="364.00" x2="57.50" y2="364.00" stroke="#5c5c5c" stroke-width="1.0" />
<text x="155.60" y="421.30" font-size="12.2" text-anchor="middle" fill="#151515" >Potential (mV) vs Ag/AgCl</text>
<text transform="translate(15.2,312.9) rotate(-90)" font-size="12.2" text-anchor="middle" fill="#151515">Current (<tspan font-family="Liberation Serif, serif">&#956;</tspan>A)</text>
<text x="12.40" y="229.60" font-size="14.4" text-anchor="start" fill="#151515" >(b)</text>
<text x="80.80" y="271.50" font-size="8.6" text-anchor="start" fill="#151515" >Oxidation</text>
<line x1="119.60" y1="270.50" x2="119.60" y2="253.50" stroke="#222" stroke-width="0.8" />
<path d="M117.9,256.5 L119.6,251.8 L121.3,256.5 Z" fill="#222"/>
<text x="197.30" y="237.40" font-size="8.6" text-anchor="start" fill="#151515" >Reduction</text>
<line x1="169.10" y1="228.50" x2="169.10" y2="244.50" stroke="#222" stroke-width="0.8" />
<path d="M167.6,243.2 L169.1,247.8 L170.6,243.2 Z" fill="#222"/>
<line x1="197.40" y1="262.50" x2="217.10" y2="262.50" stroke="#444444" stroke-width="1.5" />
<text x="219.40" y="265.10" font-size="8.7" text-anchor="start" fill="#151515" >0.2 <tspan font-family="Liberation Serif, serif">&#956;</tspan>M</text>
<line x1="197.40" y1="272.50" x2="217.10" y2="272.50" stroke="#ff5050" stroke-width="1.5" />
<text x="219.40" y="275.92" font-size="8.7" text-anchor="start" fill="#151515" >0.25 <tspan font-family="Liberation Serif, serif">&#956;</tspan>M</text>
<line x1="197.40" y1="283.50" x2="217.10" y2="283.50" stroke="#5a6cff" stroke-width="1.5" />
<text x="219.40" y="286.74" font-size="8.7" text-anchor="start" fill="#151515" >0.3 <tspan font-family="Liberation Serif, serif">&#956;</tspan>M</text>
<line x1="197.40" y1="294.50" x2="217.10" y2="294.50" stroke="#ff80ff" stroke-width="1.5" />
<text x="219.40" y="297.56" font-size="8.7" text-anchor="start" fill="#151515" >0.35 <tspan font-family="Liberation Serif, serif">&#956;</tspan>M</text>
<line x1="197.40" y1="305.50" x2="217.10" y2="305.50" stroke="#3aa85a" stroke-width="1.5" />
<text x="219.40" y="308.38" font-size="8.7" text-anchor="start" fill="#151515" >0.4 <tspan font-family="Liberation Serif, serif">&#956;</tspan>M</text>
<line x1="197.40" y1="316.50" x2="217.10" y2="316.50" stroke="#4a4aa8" stroke-width="1.5" />
<text x="219.40" y="319.20" font-size="8.7" text-anchor="start" fill="#151515" >0.6 <tspan font-family="Liberation Serif, serif">&#956;</tspan>M</text>
<line x1="197.40" y1="326.50" x2="217.10" y2="326.50" stroke="#b866ff" stroke-width="1.5" />
<text x="219.40" y="330.02" font-size="8.7" text-anchor="start" fill="#151515" >0.8 <tspan font-family="Liberation Serif, serif">&#956;</tspan>M</text>
<line x1="197.40" y1="337.50" x2="217.10" y2="337.50" stroke="#cc55b0" stroke-width="1.5" />
<text x="219.40" y="340.84" font-size="8.7" text-anchor="start" fill="#151515" >1 <tspan font-family="Liberation Serif, serif">&#956;</tspan>M</text>
<line x1="197.40" y1="348.50" x2="217.10" y2="348.50" stroke="#cc5555" stroke-width="1.5" />
<text x="219.40" y="351.66" font-size="8.7" text-anchor="start" fill="#151515" >2 <tspan font-family="Liberation Serif, serif">&#956;</tspan>M</text>
<line x1="197.40" y1="359.50" x2="217.10" y2="359.50" stroke="#aaa060" stroke-width="1.5" />
<text x="219.40" y="362.48" font-size="8.7" text-anchor="start" fill="#151515" >3 <tspan font-family="Liberation Serif, serif">&#956;</tspan>M</text>
<line x1="197.40" y1="370.50" x2="217.10" y2="370.50" stroke="#44ee55" stroke-width="1.5" />
<text x="219.40" y="373.30" font-size="8.7" text-anchor="start" fill="#151515" >4 <tspan font-family="Liberation Serif, serif">&#956;</tspan>M</text>
<line x1="197.40" y1="381.50" x2="217.10" y2="381.50" stroke="#44bbbb" stroke-width="1.5" />
<text x="219.40" y="384.12" font-size="8.7" text-anchor="start" fill="#151515" >5 <tspan font-family="Liberation Serif, serif">&#956;</tspan>M</text>
<rect x="88.30" y="289.50" width="94.90" height="65.10" fill="#ffffff" stroke="#c4c4c4" stroke-width="0.9"/>
<clipPath id="ci"><rect x="88.30" y="289.50" width="94.90" height="65.10"/></clipPath>
<g clip-path="url(#ci)">
<path d="M88.30,354.60 C89.88,354.52 94.42,354.35 97.79,354.11 C101.16,353.88 104.62,353.65 108.55,353.20 C112.47,352.75 117.69,352.31 121.36,351.39 C125.02,350.48 127.82,349.68 130.53,347.70 C133.25,345.72 135.54,343.28 137.65,339.50 C139.76,335.71 141.52,329.81 143.18,324.98 C144.84,320.15 146.35,313.97 147.61,310.49 C148.88,307.02 149.99,305.37 150.78,304.15 C151.57,302.93 151.75,303.17 152.36,303.17 C152.96,303.17 153.49,302.90 154.41,304.15 C155.34,305.40 156.73,308.54 157.89,310.66 C159.05,312.77 160.19,314.54 161.37,316.84 C162.56,319.15 163.80,322.21 165.01,324.49 C166.22,326.77 166.83,328.45 168.65,330.51 C170.47,332.57 173.50,335.67 175.92,336.86 C178.35,338.05 181.99,337.54 183.20,337.67" fill="none" stroke="#444444" stroke-width="1.1" stroke-linejoin="round" stroke-linecap="round" />
<path d="M88.30,354.60 C89.88,354.52 94.42,354.35 97.79,354.11 C101.16,353.88 104.62,353.66 108.55,353.21 C112.47,352.76 117.69,352.33 121.36,351.42 C125.02,350.51 127.82,349.73 130.53,347.77 C133.25,345.81 135.54,343.39 137.65,339.64 C139.76,335.89 141.52,330.05 143.18,325.26 C144.84,320.48 146.35,314.35 147.61,310.91 C148.88,307.47 149.99,305.83 150.78,304.62 C151.57,303.41 151.75,303.66 152.36,303.66 C152.96,303.66 153.49,303.41 154.41,304.64 C155.34,305.88 156.73,308.99 157.89,311.07 C159.05,313.16 160.19,314.87 161.37,317.14 C162.56,319.41 163.80,322.45 165.01,324.70 C166.22,326.96 166.83,328.63 168.65,330.68 C170.47,332.72 173.50,335.78 175.92,336.96 C178.35,338.14 181.99,337.63 183.20,337.77" fill="none" stroke="#ff4040" stroke-width="1.1" stroke-linejoin="round" stroke-linecap="round" />
<path d="M88.30,354.60 C89.88,354.52 94.42,354.35 97.79,354.12 C101.16,353.89 104.62,353.67 108.55,353.23 C112.47,352.79 117.69,352.37 121.36,351.49 C125.02,350.61 127.82,349.86 130.53,347.95 C133.25,346.04 135.54,343.68 137.65,340.03 C139.76,336.37 141.52,330.69 143.18,326.02 C144.84,321.35 146.35,315.38 147.61,312.03 C148.88,308.67 149.99,307.07 150.78,305.89 C151.57,304.72 151.75,304.95 152.36,304.96 C152.96,304.97 153.49,304.76 154.41,305.96 C155.34,307.17 156.73,310.19 157.89,312.18 C159.05,314.18 160.19,315.76 161.37,317.94 C162.56,320.12 163.80,323.07 165.01,325.27 C166.22,327.46 166.83,329.12 168.65,331.11 C170.47,333.10 173.50,336.06 175.92,337.22 C178.35,338.37 181.99,337.89 183.20,338.03" fill="none" stroke="#4a5cff" stroke-width="1.1" stroke-linejoin="round" stroke-linecap="round" />
<path d="M88.30,354.60 C89.88,354.52 94.42,354.36 97.79,354.15 C101.16,353.94 104.62,353.73 108.55,353.33 C112.47,352.94 117.69,352.55 121.36,351.78 C125.02,351.02 127.82,350.42 130.53,348.73 C133.25,347.05 135.54,344.92 137.65,341.68 C139.76,338.43 141.52,333.39 143.18,329.24 C144.84,325.09 146.35,319.75 147.61,316.76 C148.88,313.77 149.99,312.33 150.78,311.29 C151.57,310.24 151.75,310.45 152.36,310.49 C152.96,310.54 153.49,310.51 154.41,311.58 C155.34,312.65 156.73,315.26 157.89,316.89 C159.05,318.51 160.19,319.53 161.37,321.32 C162.56,323.12 163.80,325.72 165.01,327.66 C166.22,329.60 166.83,331.18 168.65,332.95 C170.47,334.73 173.50,337.29 175.92,338.32 C178.35,339.34 181.99,338.98 183.20,339.11" fill="none" stroke="#ff70ff" stroke-width="1.1" stroke-linejoin="round" stroke-linecap="round" />
<path d="M88.30,354.60 C89.88,354.53 94.42,354.36 97.79,354.16 C101.16,353.96 104.62,353.75 108.55,353.38 C112.47,353.01 117.69,352.64 121.36,351.92 C125.02,351.21 127.82,350.68 130.53,349.10 C133.25,347.52 135.54,345.51 137.65,342.45 C139.76,339.39 141.52,334.67 143.18,330.76 C144.84,326.85 146.35,321.81 147.61,318.99 C148.88,316.17 149.99,314.81 150.78,313.83 C151.57,312.85 151.75,313.03 152.36,313.10 C152.96,313.16 153.49,313.22 154.41,314.22 C155.34,315.22 156.73,317.65 157.89,319.10 C159.05,320.55 160.19,321.30 161.37,322.92 C162.56,324.53 163.80,326.97 165.01,328.79 C166.22,330.61 166.83,332.15 168.65,333.82 C170.47,335.50 173.50,337.87 175.92,338.84 C178.35,339.80 181.99,339.49 183.20,339.62" fill="none" stroke="#2fa34f" stroke-width="1.1" stroke-linejoin="round" stroke-linecap="round" />
<path d="M88.30,354.60 C89.88,354.53 94.42,354.37 97.79,354.18 C101.16,353.99 104.62,353.79 108.55,353.45 C112.47,353.10 117.69,352.76 121.36,352.12 C125.02,351.48 127.82,351.05 130.53,349.62 C133.25,348.20 135.54,346.35 137.65,343.56 C139.76,340.78 141.52,336.50 143.18,332.94 C144.84,329.38 146.35,324.77 147.61,322.19 C148.88,319.62 149.99,318.37 150.78,317.48 C151.57,316.59 151.75,316.75 152.36,316.84 C152.96,316.93 153.49,317.11 154.41,318.02 C155.34,318.93 156.73,321.09 157.89,322.29 C159.05,323.49 160.19,323.85 161.37,325.21 C162.56,326.56 163.80,328.76 165.01,330.41 C166.22,332.05 166.83,333.54 168.65,335.07 C170.47,336.60 173.50,338.70 175.92,339.58 C178.35,340.46 181.99,340.23 183.20,340.36" fill="none" stroke="#3f3fa6" stroke-width="1.1" stroke-linejoin="round" stroke-linecap="round" />
<path d="M88.30,354.60 C89.88,354.53 94.42,354.38 97.79,354.20 C101.16,354.02 104.62,353.82 108.55,353.51 C112.47,353.20 117.69,352.88 121.36,352.31 C125.02,351.75 127.82,351.41 130.53,350.13 C133.25,348.85 135.54,347.15 137.65,344.63 C139.76,342.11 141.52,338.25 143.18,335.02 C144.84,331.79 146.35,327.60 147.61,325.26 C148.88,322.92 149.99,321.78 150.78,320.97 C151.57,320.16 151.75,320.31 152.36,320.42 C152.96,320.54 153.49,320.84 154.41,321.66 C155.34,322.48 156.73,324.38 157.89,325.33 C159.05,326.29 160.19,326.29 161.37,327.40 C162.56,328.50 163.80,330.48 165.01,331.96 C166.22,333.44 166.83,334.87 168.65,336.26 C170.47,337.65 173.50,339.49 175.92,340.29 C178.35,341.09 181.99,340.94 183.20,341.06" fill="none" stroke="#b04cff" stroke-width="1.1" stroke-linejoin="round" stroke-linecap="round" />
<path d="M88.30,354.60 C89.88,354.54 94.42,354.38 97.79,354.21 C101.16,354.04 104.62,353.85 108.55,353.56 C112.47,353.27 117.69,352.97 121.36,352.46 C125.02,351.95 127.82,351.69 130.53,350.52 C133.25,349.35 135.54,347.77 137.65,345.45 C139.76,343.14 141.52,339.60 143.18,336.63 C144.84,333.66 146.35,329.79 147.61,327.62 C148.88,325.46 149.99,324.41 150.78,323.67 C151.57,322.93 151.75,323.06 152.36,323.19 C152.96,323.32 153.49,323.71 154.41,324.46 C155.34,325.21 156.73,326.92 157.89,327.69 C159.05,328.46 160.19,328.18 161.37,329.09 C162.56,330.00 163.80,331.81 165.01,333.16 C166.22,334.50 166.83,335.90 168.65,337.19 C170.47,338.47 173.50,340.11 175.92,340.84 C178.35,341.58 181.99,341.48 183.20,341.61" fill="none" stroke="#cc3fae" stroke-width="1.1" stroke-linejoin="round" stroke-linecap="round" />
<path d="M88.30,354.60 C89.88,354.54 94.42,354.40 97.79,354.24 C101.16,354.08 104.62,353.90 108.55,353.66 C112.47,353.41 117.69,353.14 121.36,352.75 C125.02,352.35 127.82,352.22 130.53,351.27 C133.25,350.32 135.54,348.97 137.65,347.05 C139.76,345.13 141.52,342.23 143.18,339.76 C144.84,337.29 146.35,334.03 147.61,332.22 C148.88,330.41 149.99,329.52 150.78,328.90 C151.57,328.29 151.75,328.39 152.36,328.56 C152.96,328.73 153.49,329.30 154.41,329.92 C155.34,330.53 156.73,331.85 157.89,332.26 C159.05,332.67 160.19,331.84 161.37,332.38 C162.56,332.92 163.80,334.38 165.01,335.48 C166.22,336.58 166.83,337.90 168.65,338.98 C170.47,340.05 173.50,341.30 175.92,341.91 C178.35,342.53 181.99,342.54 183.20,342.66" fill="none" stroke="#c84848" stroke-width="1.1" stroke-linejoin="round" stroke-linecap="round" />
<path d="M88.30,354.60 C89.88,354.54 94.42,354.40 97.79,354.25 C101.16,354.10 104.62,353.93 108.55,353.70 C112.47,353.48 117.69,353.23 121.36,352.89 C125.02,352.55 127.82,352.50 130.53,351.66 C133.25,350.83 135.54,349.59 137.65,347.87 C139.76,346.16 141.52,343.58 143.18,341.37 C144.84,339.15 146.35,336.22 147.61,334.59 C148.88,332.96 149.99,332.15 150.78,331.60 C151.57,331.06 151.75,331.14 152.36,331.33 C152.96,331.51 153.49,332.18 154.41,332.72 C155.34,333.27 156.73,334.39 157.89,334.61 C159.05,334.84 160.19,333.73 161.37,334.07 C162.56,334.42 163.80,335.71 165.01,336.68 C166.22,337.65 166.83,338.93 168.65,339.90 C170.47,340.86 173.50,341.91 175.92,342.46 C178.35,343.01 181.99,343.08 183.20,343.21" fill="none" stroke="#a89a4a" stroke-width="1.1" stroke-linejoin="round" stroke-linecap="round" />
<path d="M88.30,354.60 C89.88,354.54 94.42,354.40 97.79,354.26 C101.16,354.12 104.62,353.95 108.55,353.74 C112.47,353.52 117.69,353.29 121.36,352.99 C125.02,352.68 127.82,352.68 130.53,351.92 C133.25,351.15 135.54,349.99 137.65,348.41 C139.76,346.82 141.52,344.46 143.18,342.41 C144.84,340.36 146.35,337.63 147.61,336.12 C148.88,334.61 149.99,333.85 150.78,333.35 C151.57,332.85 151.75,332.92 152.36,333.12 C152.96,333.32 153.49,334.04 154.41,334.54 C155.34,335.04 156.73,336.03 157.89,336.13 C159.05,336.24 160.19,334.95 161.37,335.17 C162.56,335.39 163.80,336.56 165.01,337.45 C166.22,338.34 166.83,339.60 168.65,340.50 C170.47,341.39 173.50,342.31 175.92,342.82 C178.35,343.33 181.99,343.44 183.20,343.56" fill="none" stroke="#3ee84a" stroke-width="1.1" stroke-linejoin="round" stroke-linecap="round" />
<path d="M88.30,354.60 C89.88,354.55 94.42,354.41 97.79,354.27 C101.16,354.14 104.62,353.98 108.55,353.79 C112.47,353.60 117.69,353.38 121.36,353.14 C125.02,352.89 127.82,352.96 130.53,352.31 C133.25,351.65 135.54,350.61 137.65,349.23 C139.76,347.85 141.52,345.81 143.18,344.02 C144.84,342.23 146.35,339.82 147.61,338.49 C148.88,337.16 149.99,336.48 150.78,336.05 C151.57,335.61 151.75,335.67 152.36,335.88 C152.96,336.10 153.49,336.91 154.41,337.35 C155.34,337.78 156.73,338.57 157.89,338.49 C159.05,338.41 160.19,336.83 161.37,336.86 C162.56,336.89 163.80,337.89 165.01,338.65 C166.22,339.41 166.83,340.63 168.65,341.42 C170.47,342.20 173.50,342.92 175.92,343.37 C178.35,343.82 181.99,343.98 183.20,344.10" fill="none" stroke="#36b3b3" stroke-width="1.1" stroke-linejoin="round" stroke-linecap="round" />
<path d="M88,355.0 L183,352.2" fill="none" stroke="#cc3fae" stroke-width="1.0" stroke-linejoin="round" stroke-linecap="round" />
</g>
<line x1="123.80" y1="292.80" x2="123.80" y2="343.00" stroke="#bdbdbd" stroke-width="0.8" />
<path d="M122.8,341.5 L123.8,344.5 L124.8,341.5 Z" fill="#999"/>
<text x="88.30" y="365.40" font-size="9.7" text-anchor="middle" fill="#151515" >0</text>
<text x="135.75" y="365.40" font-size="9.7" text-anchor="middle" fill="#151515" >-300</text>
<text x="183.20" y="365.40" font-size="9.7" text-anchor="middle" fill="#151515" >-600</text>
<text x="86.50" y="358.00" font-size="9.5" text-anchor="end" fill="#151515" >0</text>
<text x="86.50" y="325.45" font-size="9.5" text-anchor="end" fill="#151515" >20</text>
<text x="86.50" y="292.90" font-size="9.5" text-anchor="end" fill="#151515" >40</text>
<text x="137.20" y="380.20" font-size="9.9" text-anchor="middle" fill="#151515" >Potential (mV) vs Ag/AgCl</text>
<text transform="translate(72,322.5) rotate(-90)" font-size="10.3" text-anchor="middle" fill="#151515">Current (<tspan font-family="Liberation Serif, serif">&#956;</tspan>A)</text>
<clipPath id="cc"><rect x="339.40" y="10.80" width="196.10" height="158.30"/></clipPath>
<g clip-path="url(#cc)">
<path d="M536.32,92.59 L535.82,94.99 L535.33,97.21 L534.84,99.22 L534.34,101.15 L533.85,102.99 L533.36,104.74 L532.86,106.40 L532.37,108.03 L531.88,109.63 L531.38,111.19 L530.89,112.67 L530.39,114.08 L529.90,115.39 L529.41,116.63 L528.91,117.84 L528.42,119.02 L527.93,120.16 L527.43,121.26 L526.94,122.32 L526.45,123.33 L525.95,124.29 L525.46,125.21 L524.97,126.12 L524.47,127.04 L523.98,127.95 L523.49,128.85 L522.99,129.73 L522.50,130.60 L522.00,131.44 L521.51,132.24 L521.02,133.01 L520.52,133.74 L520.03,134.43 L519.54,135.06 L519.04,135.63 L518.55,136.15 L518.06,136.63 L517.56,137.10 L517.07,137.54 L516.58,137.97 L516.08,138.38 L515.59,138.78 L515.10,139.17 L514.60,139.56 L514.11,139.95 L513.61,140.34 L513.12,140.73 L512.63,141.13 L512.13,141.54 L511.64,141.98 L511.15,142.42 L510.65,142.86 L510.16,143.30 L509.67,143.73 L509.17,144.14 L508.68,144.52 L508.19,144.87 L507.69,145.19 L507.20,145.46 L506.71,145.71 L506.21,145.95 L505.72,146.17 L505.22,146.39 L504.73,146.59 L504.24,146.78 L503.74,146.96 L503.25,147.13 L502.76,147.29 L502.26,147.44 L501.77,147.58 L501.28,147.71 L500.78,147.83 L500.29,147.95 L499.80,148.08 L499.30,148.20 L498.81,148.33 L498.32,148.45 L497.82,148.56 L497.33,148.66 L496.83,148.76 L496.34,148.85 L495.85,148.92 L495.35,148.99 L494.86,149.03 L494.37,149.07 L493.87,149.09 L493.38,149.11 L492.89,149.12 L492.39,149.13 L491.90,149.13 L491.41,149.13 L490.91,149.12 L490.42,149.11 L489.93,149.09 L489.43,149.06 L488.94,149.04 L488.45,149.01 L487.95,148.97 L487.46,148.93 L486.96,148.89 L486.47,148.84 L485.98,148.79 L485.48,148.74 L484.99,148.68 L484.50,148.62 L484.00,148.56 L483.51,148.50 L483.02,148.43 L482.52,148.37 L482.03,148.30 L481.54,148.23 L481.04,148.16 L480.55,148.08 L480.06,148.01 L479.56,147.93 L479.07,147.84 L478.57,147.72 L478.08,147.60 L477.59,147.46 L477.09,147.30 L476.60,147.14 L476.11,146.97 L475.61,146.79 L475.12,146.60 L474.63,146.40 L474.13,146.20 L473.64,146.00 L473.15,145.79 L472.65,145.59 L472.16,145.38 L471.67,145.15 L471.17,144.84 L470.68,144.48 L470.18,144.08 L469.69,143.66 L469.20,143.24 L468.70,142.83 L468.21,142.46 L467.72,142.14 L467.22,141.89 L466.73,141.72 L466.24,141.66 L465.74,141.73 L465.25,141.92 L464.76,142.22 L464.26,142.60 L463.77,143.03 L463.28,143.50 L462.78,143.99 L462.29,144.46 L461.79,144.91 L461.30,145.30 L460.81,145.62 L460.31,145.84 L459.82,145.96 L459.33,146.01 L458.83,146.02 L458.34,145.98 L457.85,145.90 L457.35,145.78 L456.86,145.63 L456.37,145.46 L455.87,145.26 L455.38,144.96 L454.89,144.55 L454.39,144.08 L453.90,143.55 L453.40,142.96 L452.91,142.16 L452.42,141.25 L451.92,140.36 L451.43,139.65 L450.94,139.16 L450.44,138.79 L449.95,138.57 L449.46,138.53 L448.96,138.71 L448.47,139.15 L447.98,139.81 L447.48,140.61 L446.99,141.48 L446.50,142.35 L446.00,143.16 L445.51,144.00 L445.01,144.86 L444.52,145.72 L444.03,146.57 L443.53,147.40 L443.04,148.20 L442.55,148.98 L442.05,149.76 L441.56,150.53 L441.07,151.28 L440.57,151.99 L440.08,152.65 L439.59,153.26 L439.09,153.82 L438.60,154.36 L438.11,154.87 L437.61,155.35 L437.12,155.79 L436.62,156.20 L436.13,156.56 L435.64,156.90 L435.14,157.23 L434.65,157.54 L434.16,157.84 L433.66,158.12 L433.17,158.39 L432.68,158.65 L432.18,158.91 L431.69,159.17 L431.20,159.44 L430.70,159.70 L430.21,159.95 L429.72,160.20 L429.22,160.45 L428.73,160.67 L428.23,160.89 L427.74,161.09 L427.25,161.27 L426.75,161.42 L426.26,161.56 L425.77,161.70 L425.27,161.84 L424.78,161.98 L424.29,162.12 L423.79,162.25 L423.30,162.38 L422.81,162.51 L422.31,162.64 L421.82,162.77 L421.33,162.89 L420.83,163.01 L420.34,163.13 L419.84,163.24 L419.35,163.35 L418.86,163.45 L418.36,163.56 L417.87,163.65 L417.38,163.75 L416.88,163.83 L416.39,163.92 L415.90,164.00 L415.40,164.07 L414.91,164.14 L414.42,164.20 L413.92,164.26 L413.43,164.31 L412.94,164.35 L412.44,164.39 L411.95,164.43 L411.45,164.47 L410.96,164.52 L410.47,164.56 L409.97,164.60 L409.48,164.64 L408.99,164.68 L408.49,164.72 L408.00,164.76 L407.51,164.80 L407.01,164.84 L406.52,164.88 L406.03,164.92 L405.53,164.96 L405.04,165.00 L404.55,165.04 L404.05,165.07 L403.56,165.11 L403.06,165.15 L402.57,165.19 L402.08,165.22 L401.58,165.26 L401.09,165.29 L400.60,165.33 L400.10,165.36 L399.61,165.39 L399.12,165.43 L398.62,165.46 L398.13,165.49 L397.64,165.52 L397.14,165.55 L396.65,165.58 L396.16,165.61 L395.66,165.64 L395.17,165.66 L394.67,165.69 L394.18,165.72 L393.69,165.74 L393.19,165.76 L392.70,165.79 L392.21,165.81 L391.71,165.83 L391.22,165.85 L390.73,165.86 L390.23,165.88 L389.74,165.90 L389.25,165.91 L388.75,165.93 L388.26,165.94 L387.77,165.95 L387.27,165.96 L386.78,165.97 L386.29,165.99 L385.79,166.00 L385.30,166.01 L384.80,166.02 L384.31,166.03 L383.82,166.05 L383.32,166.06 L382.83,166.07 L382.34,166.08 L381.84,166.09 L381.35,166.10 L380.86,166.11 L380.36,166.13 L379.87,166.14 L379.38,166.15 L378.88,166.16 L378.39,166.17 L377.90,166.18 L377.40,166.19 L376.91,166.20 L376.41,166.21 L375.92,166.22 L375.43,166.23 L374.93,166.25 L374.44,166.26 L373.95,166.27 L373.45,166.28 L372.96,166.29 L372.47,166.30 L371.97,166.31 L371.48,166.32 L370.99,166.33 L370.49,166.34 L370.00,166.35 L369.51,166.36 L369.01,166.37 L368.52,166.38 L368.02,166.39 L367.53,166.39 L367.04,166.40 L366.54,166.41 L366.05,166.42 L365.56,166.43 L365.06,166.44 L364.57,166.45 L364.08,166.46 L363.58,166.47 L363.09,166.48 L362.60,166.49 L362.10,166.49 L361.61,166.50 L361.12,166.51 L360.62,166.52 L360.13,166.53 L359.63,166.54 L359.14,166.55 L358.65,166.56 L358.15,166.57 L357.66,166.58 L357.17,166.58 L356.67,166.59 L356.18,166.60 L355.69,166.61 L355.19,166.62 L354.70,166.63 L354.21,166.64 L353.71,166.65 L353.22,166.66 L352.73,166.66 L352.23,166.67 L351.74,166.68 L351.24,166.69 L350.75,166.70 L350.26,166.71 L349.76,166.72 L349.27,166.72 L348.78,166.73 L348.28,166.74 L347.79,166.75 L347.30,166.76 L346.80,166.77 L346.31,166.78 L345.82,166.78 L345.32,166.79 L344.83,166.80 L344.34,166.81 L343.84,166.82 L343.35,166.82 L342.85,166.83 L342.36,166.84 L341.87,166.85 L341.37,166.85 L340.88,166.86 L340.39,166.87 L339.89,166.88 L339.40,166.88" fill="none" stroke="#36b3b3" stroke-width="1.2" stroke-linejoin="round" stroke-linecap="round" />
<path d="M536.32,83.71 L535.82,87.57 L535.33,90.95 L534.84,93.70 L534.34,96.25 L533.85,98.61 L533.36,100.74 L532.86,102.63 L532.37,104.43 L531.88,106.16 L531.38,107.81 L530.89,109.38 L530.39,110.86 L529.90,112.23 L529.41,113.54 L528.91,114.82 L528.42,116.08 L527.93,117.30 L527.43,118.48 L526.94,119.61 L526.45,120.69 L525.95,121.72 L525.46,122.69 L524.97,123.66 L524.47,124.63 L523.98,125.59 L523.49,126.55 L522.99,127.48 L522.50,128.40 L522.00,129.28 L521.51,130.14 L521.02,130.95 L520.52,131.73 L520.03,132.45 L519.54,133.13 L519.04,133.74 L518.55,134.30 L518.06,134.82 L517.56,135.33 L517.07,135.81 L516.58,136.27 L516.08,136.72 L515.59,137.15 L515.10,137.58 L514.60,138.00 L514.11,138.42 L513.61,138.84 L513.12,139.26 L512.63,139.69 L512.13,140.13 L511.64,140.59 L511.15,141.06 L510.65,141.53 L510.16,142.00 L509.67,142.45 L509.17,142.88 L508.68,143.28 L508.19,143.65 L507.69,143.98 L507.20,144.26 L506.71,144.52 L506.21,144.77 L505.72,145.00 L505.22,145.23 L504.73,145.44 L504.24,145.64 L503.74,145.82 L503.25,146.00 L502.76,146.16 L502.26,146.31 L501.77,146.45 L501.28,146.58 L500.78,146.70 L500.29,146.82 L499.80,146.95 L499.30,147.07 L498.81,147.19 L498.32,147.31 L497.82,147.42 L497.33,147.53 L496.83,147.62 L496.34,147.71 L495.85,147.78 L495.35,147.84 L494.86,147.88 L494.37,147.91 L493.87,147.94 L493.38,147.95 L492.89,147.96 L492.39,147.96 L491.90,147.96 L491.41,147.95 L490.91,147.94 L490.42,147.92 L489.93,147.90 L489.43,147.87 L488.94,147.84 L488.45,147.80 L487.95,147.76 L487.46,147.71 L486.96,147.67 L486.47,147.61 L485.98,147.56 L485.48,147.50 L484.99,147.44 L484.50,147.38 L484.00,147.31 L483.51,147.24 L483.02,147.17 L482.52,147.10 L482.03,147.02 L481.54,146.95 L481.04,146.87 L480.55,146.79 L480.06,146.72 L479.56,146.63 L479.07,146.53 L478.57,146.41 L478.08,146.28 L477.59,146.13 L477.09,145.97 L476.60,145.80 L476.11,145.61 L475.61,145.42 L475.12,145.22 L474.63,145.01 L474.13,144.79 L473.64,144.58 L473.15,144.35 L472.65,144.13 L472.16,143.90 L471.67,143.65 L471.17,143.32 L470.68,142.95 L470.18,142.53 L469.69,142.10 L469.20,141.66 L468.70,141.23 L468.21,140.82 L467.72,140.46 L467.22,140.16 L466.73,139.94 L466.24,139.80 L465.74,139.79 L465.25,139.89 L464.76,140.09 L464.26,140.35 L463.77,140.67 L463.28,141.02 L462.78,141.38 L462.29,141.73 L461.79,142.04 L461.30,142.31 L460.81,142.50 L460.31,142.59 L459.82,142.57 L459.33,142.44 L458.83,142.21 L458.34,141.89 L457.85,141.51 L457.35,141.07 L456.86,140.59 L456.37,140.08 L455.87,139.55 L455.38,138.88 L454.89,138.08 L454.39,137.21 L453.90,136.32 L453.40,135.44 L452.91,134.43 L452.42,133.38 L451.92,132.41 L451.43,131.63 L450.94,131.12 L450.44,130.85 L449.95,130.81 L449.46,131.02 L448.96,131.49 L448.47,132.24 L447.98,133.28 L447.48,134.49 L446.99,135.78 L446.50,137.03 L446.00,138.17 L445.51,139.33 L445.01,140.50 L444.52,141.66 L444.03,142.79 L443.53,143.86 L443.04,144.87 L442.55,145.84 L442.05,146.78 L441.56,147.69 L441.07,148.56 L440.57,149.38 L440.08,150.15 L439.59,150.85 L439.09,151.51 L438.60,152.14 L438.11,152.75 L437.61,153.32 L437.12,153.85 L436.62,154.34 L436.13,154.77 L435.64,155.17 L435.14,155.56 L434.65,155.93 L434.16,156.29 L433.66,156.63 L433.17,156.95 L432.68,157.26 L432.18,157.56 L431.69,157.88 L431.20,158.19 L430.70,158.50 L430.21,158.81 L429.72,159.11 L429.22,159.39 L428.73,159.66 L428.23,159.91 L427.74,160.15 L427.25,160.35 L426.75,160.53 L426.26,160.69 L425.77,160.85 L425.27,161.00 L424.78,161.16 L424.29,161.31 L423.79,161.46 L423.30,161.61 L422.81,161.75 L422.31,161.89 L421.82,162.03 L421.33,162.17 L420.83,162.30 L420.34,162.43 L419.84,162.55 L419.35,162.67 L418.86,162.79 L418.36,162.90 L417.87,163.01 L417.38,163.11 L416.88,163.21 L416.39,163.30 L415.90,163.39 L415.40,163.47 L414.91,163.54 L414.42,163.61 L413.92,163.67 L413.43,163.73 L412.94,163.78 L412.44,163.82 L411.95,163.87 L411.45,163.91 L410.96,163.96 L410.47,164.00 L409.97,164.05 L409.48,164.09 L408.99,164.14 L408.49,164.18 L408.00,164.23 L407.51,164.27 L407.01,164.31 L406.52,164.36 L406.03,164.40 L405.53,164.44 L405.04,164.49 L404.55,164.53 L404.05,164.57 L403.56,164.61 L403.06,164.65 L402.57,164.70 L402.08,164.74 L401.58,164.78 L401.09,164.82 L400.60,164.85 L400.10,164.89 L399.61,164.93 L399.12,164.97 L398.62,165.00 L398.13,165.04 L397.64,165.07 L397.14,165.11 L396.65,165.14 L396.16,165.17 L395.66,165.20 L395.17,165.23 L394.67,165.26 L394.18,165.29 L393.69,165.32 L393.19,165.35 L392.70,165.37 L392.21,165.40 L391.71,165.42 L391.22,165.44 L390.73,165.47 L390.23,165.49 L389.74,165.50 L389.25,165.52 L388.75,165.54 L388.26,165.56 L387.77,165.57 L387.27,165.59 L386.78,165.60 L386.29,165.62 L385.79,165.63 L385.30,165.65 L384.80,165.66 L384.31,165.68 L383.82,165.69 L383.32,165.71 L382.83,165.72 L382.34,165.73 L381.84,165.75 L381.35,165.76 L380.86,165.78 L380.36,165.79 L379.87,165.81 L379.38,165.82 L378.88,165.83 L378.39,165.85 L377.90,165.86 L377.40,165.88 L376.91,165.89 L376.41,165.90 L375.92,165.92 L375.43,165.93 L374.93,165.94 L374.44,165.96 L373.95,165.97 L373.45,165.98 L372.96,166.00 L372.47,166.01 L371.97,166.02 L371.48,166.03 L370.99,166.05 L370.49,166.06 L370.00,166.07 L369.51,166.09 L369.01,166.10 L368.52,166.11 L368.02,166.12 L367.53,166.13 L367.04,166.15 L366.54,166.16 L366.05,166.17 L365.56,166.18 L365.06,166.19 L364.57,166.21 L364.08,166.22 L363.58,166.23 L363.09,166.24 L362.60,166.25 L362.10,166.26 L361.61,166.28 L361.12,166.29 L360.62,166.30 L360.13,166.31 L359.63,166.32 L359.14,166.33 L358.65,166.35 L358.15,166.36 L357.66,166.37 L357.17,166.38 L356.67,166.39 L356.18,166.40 L355.69,166.42 L355.19,166.43 L354.70,166.44 L354.21,166.45 L353.71,166.46 L353.22,166.47 L352.73,166.49 L352.23,166.50 L351.74,166.51 L351.24,166.52 L350.75,166.53 L350.26,166.54 L349.76,166.55 L349.27,166.56 L348.78,166.58 L348.28,166.59 L347.79,166.60 L347.30,166.61 L346.80,166.62 L346.31,166.63 L345.82,166.64 L345.32,166.65 L344.83,166.66 L344.34,166.67 L343.84,166.68 L343.35,166.69 L342.85,166.70 L342.36,166.71 L341.87,166.72 L341.37,166.73 L340.88,166.74 L340.39,166.75 L339.89,166.76 L339.40,166.77" fill="none" stroke="#3ee84a" stroke-width="1.2" stroke-linejoin="round" stroke-linecap="round" />
<path d="M536.32,74.84 L535.82,80.16 L535.33,84.70 L534.84,88.17 L534.34,91.36 L533.85,94.24 L533.36,96.76 L532.86,98.86 L532.37,100.80 L531.88,102.65 L531.38,104.41 L530.89,106.07 L530.39,107.63 L529.90,109.07 L529.41,110.45 L528.91,111.81 L528.42,113.14 L527.93,114.44 L527.43,115.69 L526.94,116.90 L526.45,118.06 L525.95,119.15 L525.46,120.18 L524.97,121.20 L524.47,122.23 L523.98,123.24 L523.49,124.24 L522.99,125.23 L522.50,126.19 L522.00,127.13 L521.51,128.03 L521.02,128.89 L520.52,129.71 L520.03,130.48 L519.54,131.20 L519.04,131.85 L518.55,132.45 L518.06,133.02 L517.56,133.56 L517.07,134.07 L516.58,134.57 L516.08,135.06 L515.59,135.53 L515.10,135.99 L514.60,136.44 L514.11,136.90 L513.61,137.34 L513.12,137.79 L512.63,138.25 L512.13,138.72 L511.64,139.21 L511.15,139.70 L510.65,140.20 L510.16,140.69 L509.67,141.17 L509.17,141.62 L508.68,142.05 L508.19,142.43 L507.69,142.78 L507.20,143.07 L506.71,143.33 L506.21,143.59 L505.72,143.83 L505.22,144.07 L504.73,144.28 L504.24,144.49 L503.74,144.68 L503.25,144.86 L502.76,145.03 L502.26,145.18 L501.77,145.32 L501.28,145.45 L500.78,145.57 L500.29,145.70 L499.80,145.82 L499.30,145.94 L498.81,146.06 L498.32,146.17 L497.82,146.28 L497.33,146.39 L496.83,146.48 L496.34,146.56 L495.85,146.63 L495.35,146.69 L494.86,146.73 L494.37,146.76 L493.87,146.78 L493.38,146.79 L492.89,146.80 L492.39,146.80 L491.90,146.79 L491.41,146.78 L490.91,146.76 L490.42,146.74 L489.93,146.71 L489.43,146.67 L488.94,146.64 L488.45,146.59 L487.95,146.55 L487.46,146.50 L486.96,146.44 L486.47,146.38 L485.98,146.32 L485.48,146.26 L484.99,146.19 L484.50,146.12 L484.00,146.05 L483.51,145.97 L483.02,145.90 L482.52,145.82 L482.03,145.74 L481.54,145.66 L481.04,145.58 L480.55,145.50 L480.06,145.42 L479.56,145.34 L479.07,145.23 L478.57,145.11 L478.08,144.97 L477.59,144.81 L477.09,144.64 L476.60,144.46 L476.11,144.27 L475.61,144.06 L475.12,143.85 L474.63,143.62 L474.13,143.39 L473.64,143.16 L473.15,142.91 L472.65,142.67 L472.16,142.42 L471.67,142.14 L471.17,141.80 L470.68,141.41 L470.18,140.98 L469.69,140.52 L469.20,140.06 L468.70,139.59 L468.21,139.14 L467.72,138.71 L467.22,138.32 L466.73,137.98 L466.24,137.71 L465.74,137.55 L465.25,137.49 L464.76,137.52 L464.26,137.61 L463.77,137.75 L463.28,137.92 L462.78,138.10 L462.29,138.26 L461.79,138.39 L461.30,138.47 L460.81,138.47 L460.31,138.39 L459.82,138.17 L459.33,137.77 L458.83,137.22 L458.34,136.52 L457.85,135.72 L457.35,134.84 L456.86,133.90 L456.37,132.93 L455.87,131.93 L455.38,130.74 L454.89,129.40 L454.39,128.02 L453.90,126.67 L453.40,125.42 L452.91,124.14 L452.42,122.89 L451.92,121.77 L451.43,120.92 L450.94,120.43 L450.44,120.32 L449.95,120.54 L449.46,121.07 L448.96,121.87 L448.47,123.00 L447.98,124.53 L447.48,126.30 L446.99,128.15 L446.50,129.93 L446.00,131.52 L445.51,133.11 L445.01,134.70 L444.52,136.26 L444.03,137.76 L443.53,139.15 L443.04,140.43 L442.55,141.62 L442.05,142.77 L441.56,143.87 L441.07,144.91 L440.57,145.89 L440.08,146.81 L439.59,147.68 L439.09,148.50 L438.60,149.30 L438.11,150.08 L437.61,150.81 L437.12,151.49 L436.62,152.12 L436.13,152.67 L435.64,153.20 L435.14,153.70 L434.65,154.18 L434.16,154.63 L433.66,155.06 L433.17,155.45 L432.68,155.82 L432.18,156.19 L431.69,156.57 L431.20,156.94 L430.70,157.31 L430.21,157.67 L429.72,158.01 L429.22,158.35 L428.73,158.66 L428.23,158.95 L427.74,159.21 L427.25,159.44 L426.75,159.64 L426.26,159.82 L425.77,159.99 L425.27,160.16 L424.78,160.32 L424.29,160.49 L423.79,160.65 L423.30,160.82 L422.81,160.97 L422.31,161.13 L421.82,161.28 L421.33,161.43 L420.83,161.58 L420.34,161.72 L419.84,161.86 L419.35,161.99 L418.86,162.12 L418.36,162.24 L417.87,162.36 L417.38,162.47 L416.88,162.58 L416.39,162.68 L415.90,162.77 L415.40,162.86 L414.91,162.94 L414.42,163.02 L413.92,163.09 L413.43,163.15 L412.94,163.20 L412.44,163.25 L411.95,163.30 L411.45,163.35 L410.96,163.40 L410.47,163.45 L409.97,163.50 L409.48,163.54 L408.99,163.59 L408.49,163.64 L408.00,163.69 L407.51,163.74 L407.01,163.79 L406.52,163.84 L406.03,163.88 L405.53,163.93 L405.04,163.98 L404.55,164.02 L404.05,164.07 L403.56,164.12 L403.06,164.16 L402.57,164.21 L402.08,164.25 L401.58,164.29 L401.09,164.34 L400.60,164.38 L400.10,164.42 L399.61,164.46 L399.12,164.50 L398.62,164.54 L398.13,164.58 L397.64,164.62 L397.14,164.66 L396.65,164.70 L396.16,164.73 L395.66,164.77 L395.17,164.80 L394.67,164.84 L394.18,164.87 L393.69,164.90 L393.19,164.93 L392.70,164.96 L392.21,164.99 L391.71,165.01 L391.22,165.04 L390.73,165.07 L390.23,165.09 L389.74,165.11 L389.25,165.13 L388.75,165.15 L388.26,165.17 L387.77,165.19 L387.27,165.21 L386.78,165.23 L386.29,165.25 L385.79,165.26 L385.30,165.28 L384.80,165.30 L384.31,165.32 L383.82,165.34 L383.32,165.35 L382.83,165.37 L382.34,165.39 L381.84,165.41 L381.35,165.42 L380.86,165.44 L380.36,165.46 L379.87,165.48 L379.38,165.49 L378.88,165.51 L378.39,165.53 L377.90,165.54 L377.40,165.56 L376.91,165.58 L376.41,165.59 L375.92,165.61 L375.43,165.63 L374.93,165.64 L374.44,165.66 L373.95,165.67 L373.45,165.69 L372.96,165.71 L372.47,165.72 L371.97,165.74 L371.48,165.75 L370.99,165.77 L370.49,165.78 L370.00,165.80 L369.51,165.81 L369.01,165.83 L368.52,165.84 L368.02,165.86 L367.53,165.87 L367.04,165.89 L366.54,165.90 L366.05,165.92 L365.56,165.93 L365.06,165.95 L364.57,165.96 L364.08,165.98 L363.58,165.99 L363.09,166.01 L362.60,166.02 L362.10,166.03 L361.61,166.05 L361.12,166.06 L360.62,166.08 L360.13,166.09 L359.63,166.11 L359.14,166.12 L358.65,166.14 L358.15,166.15 L357.66,166.16 L357.17,166.18 L356.67,166.19 L356.18,166.21 L355.69,166.22 L355.19,166.24 L354.70,166.25 L354.21,166.26 L353.71,166.28 L353.22,166.29 L352.73,166.31 L352.23,166.32 L351.74,166.33 L351.24,166.35 L350.75,166.36 L350.26,166.38 L349.76,166.39 L349.27,166.40 L348.78,166.42 L348.28,166.43 L347.79,166.44 L347.30,166.46 L346.80,166.47 L346.31,166.48 L345.82,166.50 L345.32,166.51 L344.83,166.52 L344.34,166.54 L343.84,166.55 L343.35,166.56 L342.85,166.58 L342.36,166.59 L341.87,166.60 L341.37,166.61 L340.88,166.63 L340.39,166.64 L339.89,166.65 L339.40,166.66" fill="none" stroke="#a89a4a" stroke-width="1.2" stroke-linejoin="round" stroke-linecap="round" />
<path d="M536.32,65.97 L535.82,72.74 L535.33,78.45 L534.84,82.64 L534.34,86.45 L533.85,89.88 L533.36,92.78 L532.86,95.08 L532.37,97.16 L531.88,99.13 L531.38,101.00 L530.89,102.76 L530.39,104.39 L529.90,105.91 L529.41,107.36 L528.91,108.79 L528.42,110.20 L527.93,111.58 L527.43,112.91 L526.94,114.20 L526.45,115.42 L525.95,116.58 L525.46,117.66 L524.97,118.74 L524.47,119.82 L523.98,120.89 L523.49,121.94 L522.99,122.98 L522.50,123.99 L522.00,124.98 L521.51,125.93 L521.02,126.84 L520.52,127.70 L520.03,128.51 L519.54,129.27 L519.04,129.97 L518.55,130.60 L518.06,131.21 L517.56,131.78 L517.07,132.34 L516.58,132.88 L516.08,133.40 L515.59,133.90 L515.10,134.40 L514.60,134.89 L514.11,135.37 L513.61,135.85 L513.12,136.33 L512.63,136.81 L512.13,137.31 L511.64,137.82 L511.15,138.35 L510.65,138.87 L510.16,139.39 L509.67,139.89 L509.17,140.37 L508.68,140.81 L508.19,141.22 L507.69,141.57 L507.20,141.87 L506.71,142.15 L506.21,142.41 L505.72,142.67 L505.22,142.90 L504.73,143.13 L504.24,143.34 L503.74,143.54 L503.25,143.73 L502.76,143.90 L502.26,144.05 L501.77,144.20 L501.28,144.32 L500.78,144.44 L500.29,144.57 L499.80,144.69 L499.30,144.81 L498.81,144.93 L498.32,145.04 L497.82,145.15 L497.33,145.25 L496.83,145.34 L496.34,145.42 L495.85,145.49 L495.35,145.54 L494.86,145.58 L494.37,145.61 L493.87,145.62 L493.38,145.63 L492.89,145.64 L492.39,145.63 L491.90,145.62 L491.41,145.60 L490.91,145.58 L490.42,145.55 L489.93,145.52 L489.43,145.48 L488.94,145.44 L488.45,145.39 L487.95,145.34 L487.46,145.28 L486.96,145.22 L486.47,145.16 L485.98,145.09 L485.48,145.02 L484.99,144.95 L484.50,144.87 L484.00,144.80 L483.51,144.72 L483.02,144.63 L482.52,144.55 L482.03,144.47 L481.54,144.38 L481.04,144.30 L480.55,144.21 L480.06,144.13 L479.56,144.04 L479.07,143.93 L478.57,143.80 L478.08,143.65 L477.59,143.49 L477.09,143.31 L476.60,143.12 L476.11,142.91 L475.61,142.70 L475.12,142.47 L474.63,142.23 L474.13,141.99 L473.64,141.73 L473.15,141.47 L472.65,141.21 L472.16,140.94 L471.67,140.64 L471.17,140.28 L470.68,139.87 L470.18,139.43 L469.69,138.96 L469.20,138.47 L468.70,137.98 L468.21,137.50 L467.72,137.03 L467.22,136.59 L466.73,136.20 L466.24,135.86 L465.74,135.61 L465.25,135.46 L464.76,135.38 L464.26,135.37 L463.77,135.39 L463.28,135.43 L462.78,135.48 L462.29,135.51 L461.79,135.51 L461.30,135.46 L460.81,135.34 L460.31,135.14 L459.82,134.79 L459.33,134.20 L458.83,133.41 L458.34,132.43 L457.85,131.32 L457.35,130.12 L456.86,128.84 L456.37,127.54 L455.87,126.22 L455.38,124.66 L454.89,122.91 L454.39,121.12 L453.90,119.42 L453.40,117.91 L452.91,116.41 L452.42,114.99 L451.92,113.77 L451.43,112.89 L450.94,112.45 L450.44,112.45 L449.95,112.86 L449.46,113.61 L448.96,114.65 L448.47,116.07 L447.98,117.97 L447.48,120.16 L446.99,122.44 L446.50,124.60 L446.00,126.53 L445.51,128.45 L445.01,130.36 L444.52,132.22 L444.03,133.99 L443.53,135.63 L443.04,137.09 L442.55,138.46 L442.05,139.76 L441.56,141.00 L441.07,142.17 L440.57,143.27 L440.08,144.30 L439.59,145.27 L439.09,146.19 L438.60,147.09 L438.11,147.96 L437.61,148.79 L437.12,149.55 L436.62,150.26 L436.13,150.88 L435.64,151.47 L435.14,152.03 L434.65,152.57 L434.16,153.08 L433.66,153.56 L433.17,154.01 L432.68,154.43 L432.18,154.85 L431.69,155.27 L431.20,155.69 L430.70,156.11 L430.21,156.52 L429.72,156.92 L429.22,157.29 L428.73,157.65 L428.23,157.97 L427.74,158.27 L427.25,158.53 L426.75,158.75 L426.26,158.94 L425.77,159.13 L425.27,159.32 L424.78,159.50 L424.29,159.68 L423.79,159.86 L423.30,160.04 L422.81,160.21 L422.31,160.38 L421.82,160.55 L421.33,160.71 L420.83,160.87 L420.34,161.02 L419.84,161.17 L419.35,161.31 L418.86,161.45 L418.36,161.58 L417.87,161.71 L417.38,161.83 L416.88,161.95 L416.39,162.06 L415.90,162.16 L415.40,162.26 L414.91,162.35 L414.42,162.43 L413.92,162.50 L413.43,162.57 L412.94,162.62 L412.44,162.68 L411.95,162.73 L411.45,162.78 L410.96,162.84 L410.47,162.89 L409.97,162.95 L409.48,163.00 L408.99,163.05 L408.49,163.10 L408.00,163.16 L407.51,163.21 L407.01,163.26 L406.52,163.31 L406.03,163.37 L405.53,163.42 L405.04,163.47 L404.55,163.52 L404.05,163.57 L403.56,163.62 L403.06,163.67 L402.57,163.72 L402.08,163.77 L401.58,163.81 L401.09,163.86 L400.60,163.91 L400.10,163.95 L399.61,164.00 L399.12,164.04 L398.62,164.09 L398.13,164.13 L397.64,164.17 L397.14,164.21 L396.65,164.26 L396.16,164.30 L395.66,164.33 L395.17,164.37 L394.67,164.41 L394.18,164.44 L393.69,164.48 L393.19,164.51 L392.70,164.55 L392.21,164.58 L391.71,164.61 L391.22,164.64 L390.73,164.67 L390.23,164.69 L389.74,164.72 L389.25,164.74 L388.75,164.77 L388.26,164.79 L387.77,164.81 L387.27,164.83 L386.78,164.85 L386.29,164.88 L385.79,164.90 L385.30,164.92 L384.80,164.94 L384.31,164.96 L383.82,164.98 L383.32,165.00 L382.83,165.02 L382.34,165.04 L381.84,165.06 L381.35,165.08 L380.86,165.10 L380.36,165.12 L379.87,165.14 L379.38,165.16 L378.88,165.18 L378.39,165.20 L377.90,165.22 L377.40,165.24 L376.91,165.26 L376.41,165.28 L375.92,165.30 L375.43,165.32 L374.93,165.34 L374.44,165.36 L373.95,165.38 L373.45,165.40 L372.96,165.41 L372.47,165.43 L371.97,165.45 L371.48,165.47 L370.99,165.49 L370.49,165.51 L370.00,165.53 L369.51,165.54 L369.01,165.56 L368.52,165.58 L368.02,165.60 L367.53,165.61 L367.04,165.63 L366.54,165.65 L366.05,165.67 L365.56,165.68 L365.06,165.70 L364.57,165.72 L364.08,165.74 L363.58,165.75 L363.09,165.77 L362.60,165.79 L362.10,165.80 L361.61,165.82 L361.12,165.84 L360.62,165.86 L360.13,165.87 L359.63,165.89 L359.14,165.91 L358.65,165.92 L358.15,165.94 L357.66,165.96 L357.17,165.98 L356.67,165.99 L356.18,166.01 L355.69,166.03 L355.19,166.04 L354.70,166.06 L354.21,166.08 L353.71,166.09 L353.22,166.11 L352.73,166.13 L352.23,166.14 L351.74,166.16 L351.24,166.18 L350.75,166.19 L350.26,166.21 L349.76,166.23 L349.27,166.24 L348.78,166.26 L348.28,166.27 L347.79,166.29 L347.30,166.31 L346.80,166.32 L346.31,166.34 L345.82,166.35 L345.32,166.37 L344.83,166.39 L344.34,166.40 L343.84,166.42 L343.35,166.43 L342.85,166.45 L342.36,166.46 L341.87,166.48 L341.37,166.49 L340.88,166.51 L340.39,166.52 L339.89,166.54 L339.40,166.55" fill="none" stroke="#c84848" stroke-width="1.2" stroke-linejoin="round" stroke-linecap="round" />
<path d="M536.32,57.09 L535.82,65.33 L535.33,72.20 L534.84,77.10 L534.34,81.55 L533.85,85.52 L533.36,88.81 L532.86,91.30 L532.37,93.51 L531.88,95.61 L531.38,97.59 L530.89,99.44 L530.39,101.16 L529.90,102.75 L529.41,104.27 L528.91,105.78 L528.42,107.27 L527.93,108.72 L527.43,110.14 L526.94,111.49 L526.45,112.78 L525.95,114.00 L525.46,115.15 L524.97,116.28 L524.47,117.41 L523.98,118.53 L523.49,119.64 L522.99,120.73 L522.50,121.79 L522.00,122.82 L521.51,123.82 L521.02,124.78 L520.52,125.68 L520.03,126.54 L519.54,127.34 L519.04,128.08 L518.55,128.75 L518.06,129.40 L517.56,130.01 L517.07,130.61 L516.58,131.18 L516.08,131.74 L515.59,132.28 L515.10,132.81 L514.60,133.33 L514.11,133.84 L513.61,134.35 L513.12,134.86 L512.63,135.37 L512.13,135.89 L511.64,136.44 L511.15,136.99 L510.65,137.54 L510.16,138.08 L509.67,138.61 L509.17,139.11 L508.68,139.58 L508.19,140.00 L507.69,140.36 L507.20,140.67 L506.71,140.96 L506.21,141.24 L505.72,141.50 L505.22,141.74 L504.73,141.98 L504.24,142.20 L503.74,142.40 L503.25,142.59 L502.76,142.77 L502.26,142.93 L501.77,143.07 L501.28,143.20 L500.78,143.32 L500.29,143.44 L499.80,143.56 L499.30,143.68 L498.81,143.79 L498.32,143.90 L497.82,144.01 L497.33,144.11 L496.83,144.20 L496.34,144.28 L495.85,144.34 L495.35,144.40 L494.86,144.43 L494.37,144.45 L493.87,144.47 L493.38,144.47 L492.89,144.47 L492.39,144.47 L491.90,144.45 L491.41,144.43 L490.91,144.40 L490.42,144.37 L489.93,144.33 L489.43,144.29 L488.94,144.24 L488.45,144.19 L487.95,144.13 L487.46,144.07 L486.96,144.00 L486.47,143.94 L485.98,143.86 L485.48,143.79 L484.99,143.71 L484.50,143.63 L484.00,143.55 L483.51,143.46 L483.02,143.38 L482.52,143.29 L482.03,143.20 L481.54,143.11 L481.04,143.02 L480.55,142.93 L480.06,142.83 L479.56,142.74 L479.07,142.62 L478.57,142.48 L478.08,142.33 L477.59,142.16 L477.09,141.97 L476.60,141.77 L476.11,141.55 L475.61,141.32 L475.12,141.08 L474.63,140.83 L474.13,140.57 L473.64,140.30 L473.15,140.03 L472.65,139.75 L472.16,139.46 L471.67,139.15 L471.17,138.78 L470.68,138.37 L470.18,137.92 L469.69,137.44 L469.20,136.95 L468.70,136.45 L468.21,135.95 L467.72,135.47 L467.22,135.02 L466.73,134.60 L466.24,134.23 L465.74,133.95 L465.25,133.75 L464.76,133.63 L464.26,133.56 L463.77,133.52 L463.28,133.51 L462.78,133.49 L462.29,133.46 L461.79,133.40 L461.30,133.29 L460.81,133.11 L460.31,132.84 L459.82,132.43 L459.33,131.74 L458.83,130.80 L458.34,129.65 L457.85,128.35 L457.35,126.94 L456.86,125.46 L456.37,123.95 L455.87,122.42 L455.38,120.60 L454.89,118.58 L454.39,116.52 L453.90,114.59 L453.40,112.91 L452.91,111.27 L452.42,109.73 L451.92,108.44 L451.43,107.53 L450.94,107.12 L450.44,107.21 L449.95,107.74 L449.46,108.63 L448.96,109.84 L448.47,111.45 L447.98,113.60 L447.48,116.07 L446.99,118.63 L446.50,121.05 L446.00,123.20 L445.51,125.34 L445.01,127.46 L444.52,129.53 L444.03,131.48 L443.53,133.28 L443.04,134.87 L442.55,136.35 L442.05,137.76 L441.56,139.09 L441.07,140.35 L440.57,141.53 L440.08,142.62 L439.59,143.63 L439.09,144.58 L438.60,145.51 L438.11,146.40 L437.61,147.25 L437.12,148.03 L436.62,148.75 L436.13,149.39 L435.64,149.99 L435.14,150.57 L434.65,151.12 L434.16,151.64 L433.66,152.15 L433.17,152.62 L432.68,153.07 L432.18,153.53 L431.69,153.99 L431.20,154.46 L430.70,154.92 L430.21,155.37 L429.72,155.81 L429.22,156.23 L428.73,156.63 L428.23,156.99 L427.74,157.32 L427.25,157.61 L426.75,157.86 L426.26,158.07 L425.77,158.28 L425.27,158.48 L424.78,158.69 L424.29,158.88 L423.79,159.08 L423.30,159.27 L422.81,159.46 L422.31,159.64 L421.82,159.82 L421.33,160.00 L420.83,160.17 L420.34,160.33 L419.84,160.49 L419.35,160.65 L418.86,160.80 L418.36,160.94 L417.87,161.07 L417.38,161.20 L416.88,161.33 L416.39,161.44 L415.90,161.55 L415.40,161.66 L414.91,161.75 L414.42,161.84 L413.92,161.92 L413.43,161.99 L412.94,162.05 L412.44,162.11 L411.95,162.16 L411.45,162.22 L410.96,162.28 L410.47,162.34 L409.97,162.40 L409.48,162.45 L408.99,162.51 L408.49,162.57 L408.00,162.62 L407.51,162.68 L407.01,162.74 L406.52,162.79 L406.03,162.85 L405.53,162.91 L405.04,162.96 L404.55,163.02 L404.05,163.07 L403.56,163.12 L403.06,163.18 L402.57,163.23 L402.08,163.28 L401.58,163.33 L401.09,163.39 L400.60,163.44 L400.10,163.49 L399.61,163.54 L399.12,163.58 L398.62,163.63 L398.13,163.68 L397.64,163.72 L397.14,163.77 L396.65,163.81 L396.16,163.86 L395.66,163.90 L395.17,163.94 L394.67,163.98 L394.18,164.02 L393.69,164.06 L393.19,164.10 L392.70,164.13 L392.21,164.17 L391.71,164.20 L391.22,164.24 L390.73,164.27 L390.23,164.30 L389.74,164.33 L389.25,164.36 L388.75,164.38 L388.26,164.41 L387.77,164.43 L387.27,164.46 L386.78,164.48 L386.29,164.51 L385.79,164.53 L385.30,164.55 L384.80,164.58 L384.31,164.60 L383.82,164.63 L383.32,164.65 L382.83,164.67 L382.34,164.70 L381.84,164.72 L381.35,164.74 L380.86,164.77 L380.36,164.79 L379.87,164.81 L379.38,164.84 L378.88,164.86 L378.39,164.88 L377.90,164.90 L377.40,164.93 L376.91,164.95 L376.41,164.97 L375.92,164.99 L375.43,165.02 L374.93,165.04 L374.44,165.06 L373.95,165.08 L373.45,165.10 L372.96,165.12 L372.47,165.15 L371.97,165.17 L371.48,165.19 L370.99,165.21 L370.49,165.23 L370.00,165.25 L369.51,165.27 L369.01,165.29 L368.52,165.31 L368.02,165.33 L367.53,165.35 L367.04,165.38 L366.54,165.40 L366.05,165.42 L365.56,165.44 L365.06,165.46 L364.57,165.48 L364.08,165.50 L363.58,165.52 L363.09,165.54 L362.60,165.56 L362.10,165.57 L361.61,165.59 L361.12,165.61 L360.62,165.63 L360.13,165.65 L359.63,165.67 L359.14,165.69 L358.65,165.71 L358.15,165.73 L357.66,165.75 L357.17,165.77 L356.67,165.79 L356.18,165.81 L355.69,165.83 L355.19,165.85 L354.70,165.87 L354.21,165.89 L353.71,165.91 L353.22,165.93 L352.73,165.95 L352.23,165.97 L351.74,165.99 L351.24,166.01 L350.75,166.02 L350.26,166.04 L349.76,166.06 L349.27,166.08 L348.78,166.10 L348.28,166.12 L347.79,166.14 L347.30,166.16 L346.80,166.18 L346.31,166.19 L345.82,166.21 L345.32,166.23 L344.83,166.25 L344.34,166.27 L343.84,166.28 L343.35,166.30 L342.85,166.32 L342.36,166.34 L341.87,166.36 L341.37,166.37 L340.88,166.39 L340.39,166.41 L339.89,166.43 L339.40,166.44" fill="none" stroke="#cc3fae" stroke-width="1.2" stroke-linejoin="round" stroke-linecap="round" />
<path d="M536.32,48.22 L535.82,57.92 L535.33,65.96 L534.84,71.56 L534.34,76.65 L533.85,81.16 L533.36,84.83 L532.86,87.51 L532.37,89.86 L531.88,92.08 L531.38,94.17 L530.89,96.12 L530.39,97.92 L529.90,99.59 L529.41,101.19 L528.91,102.77 L528.42,104.34 L527.93,105.87 L527.43,107.36 L526.94,108.79 L526.45,110.15 L525.95,111.43 L525.46,112.63 L524.97,113.82 L524.47,115.00 L523.98,116.18 L523.49,117.34 L522.99,118.48 L522.50,119.59 L522.00,120.67 L521.51,121.72 L521.02,122.72 L520.52,123.67 L520.03,124.57 L519.54,125.41 L519.04,126.19 L518.55,126.90 L518.06,127.59 L517.56,128.24 L517.07,128.87 L516.58,129.48 L516.08,130.08 L515.59,130.65 L515.10,131.22 L514.60,131.77 L514.11,132.32 L513.61,132.86 L513.12,133.39 L512.63,133.93 L512.13,134.48 L511.64,135.05 L511.15,135.63 L510.65,136.21 L510.16,136.78 L509.67,137.33 L509.17,137.85 L508.68,138.34 L508.19,138.78 L507.69,139.16 L507.20,139.48 L506.71,139.77 L506.21,140.06 L505.72,140.33 L505.22,140.58 L504.73,140.82 L504.24,141.05 L503.74,141.26 L503.25,141.46 L502.76,141.63 L502.26,141.80 L501.77,141.94 L501.28,142.07 L500.78,142.19 L500.29,142.31 L499.80,142.43 L499.30,142.54 L498.81,142.66 L498.32,142.77 L497.82,142.87 L497.33,142.97 L496.83,143.06 L496.34,143.13 L495.85,143.20 L495.35,143.25 L494.86,143.28 L494.37,143.30 L493.87,143.31 L493.38,143.31 L492.89,143.31 L492.39,143.30 L491.90,143.28 L491.41,143.25 L490.91,143.22 L490.42,143.18 L489.93,143.14 L489.43,143.09 L488.94,143.04 L488.45,142.98 L487.95,142.91 L487.46,142.85 L486.96,142.77 L486.47,142.70 L485.98,142.62 L485.48,142.54 L484.99,142.46 L484.50,142.37 L484.00,142.28 L483.51,142.19 L483.02,142.10 L482.52,142.01 L482.03,141.91 L481.54,141.82 L481.04,141.73 L480.55,141.63 L480.06,141.54 L479.56,141.44 L479.07,141.32 L478.57,141.18 L478.08,141.03 L477.59,140.85 L477.09,140.66 L476.60,140.45 L476.11,140.23 L475.61,139.99 L475.12,139.74 L474.63,139.47 L474.13,139.19 L473.64,138.90 L473.15,138.60 L472.65,138.29 L472.16,137.97 L471.67,137.61 L471.17,137.20 L470.68,136.73 L470.18,136.23 L469.69,135.69 L469.20,135.12 L468.70,134.55 L468.21,133.96 L467.72,133.39 L467.22,132.83 L466.73,132.30 L466.24,131.80 L465.74,131.35 L465.25,130.96 L464.76,130.60 L464.26,130.26 L463.77,129.94 L463.28,129.62 L462.78,129.30 L462.29,128.95 L461.79,128.57 L461.30,128.14 L460.81,127.66 L460.31,127.11 L459.82,126.40 L459.33,125.31 L458.83,123.88 L458.34,122.17 L457.85,120.26 L457.35,118.20 L456.86,116.07 L456.37,113.92 L455.87,111.76 L455.38,109.22 L454.89,106.43 L454.39,103.63 L453.90,101.06 L453.40,98.90 L452.91,96.86 L452.42,95.00 L451.92,93.51 L451.43,92.53 L450.94,92.21 L450.44,92.53 L449.95,93.39 L449.46,94.70 L448.96,96.37 L448.47,98.52 L447.98,101.37 L447.48,104.61 L446.99,107.96 L446.50,111.11 L446.00,113.89 L445.51,116.63 L445.01,119.36 L444.52,121.98 L444.03,124.45 L443.53,126.69 L443.04,128.64 L442.55,130.43 L442.05,132.12 L441.56,133.71 L441.07,135.21 L440.57,136.63 L440.08,137.96 L439.59,139.23 L439.09,140.45 L438.60,141.66 L438.11,142.84 L437.61,143.96 L437.12,145.01 L436.62,145.96 L436.13,146.81 L435.64,147.61 L435.14,148.38 L434.65,149.12 L434.16,149.81 L433.66,150.45 L433.17,151.05 L432.68,151.58 L432.18,152.12 L431.69,152.66 L431.20,153.19 L430.70,153.72 L430.21,154.23 L429.72,154.73 L429.22,155.20 L428.73,155.64 L428.23,156.04 L427.74,156.40 L427.25,156.71 L426.75,156.97 L426.26,157.19 L425.77,157.41 L425.27,157.62 L424.78,157.84 L424.29,158.05 L423.79,158.26 L423.30,158.46 L422.81,158.66 L422.31,158.86 L421.82,159.05 L421.33,159.24 L420.83,159.42 L420.34,159.60 L419.84,159.78 L419.35,159.94 L418.86,160.11 L418.36,160.26 L417.87,160.41 L417.38,160.55 L416.88,160.69 L416.39,160.82 L415.90,160.94 L415.40,161.05 L414.91,161.15 L414.42,161.24 L413.92,161.33 L413.43,161.41 L412.94,161.47 L412.44,161.53 L411.95,161.60 L411.45,161.66 L410.96,161.72 L410.47,161.78 L409.97,161.84 L409.48,161.91 L408.99,161.97 L408.49,162.03 L408.00,162.09 L407.51,162.15 L407.01,162.21 L406.52,162.27 L406.03,162.33 L405.53,162.39 L405.04,162.45 L404.55,162.51 L404.05,162.57 L403.56,162.63 L403.06,162.68 L402.57,162.74 L402.08,162.80 L401.58,162.85 L401.09,162.91 L400.60,162.96 L400.10,163.02 L399.61,163.07 L399.12,163.12 L398.62,163.17 L398.13,163.23 L397.64,163.28 L397.14,163.32 L396.65,163.37 L396.16,163.42 L395.66,163.47 L395.17,163.51 L394.67,163.56 L394.18,163.60 L393.69,163.64 L393.19,163.68 L392.70,163.72 L392.21,163.76 L391.71,163.80 L391.22,163.83 L390.73,163.87 L390.23,163.90 L389.74,163.94 L389.25,163.97 L388.75,164.00 L388.26,164.02 L387.77,164.05 L387.27,164.08 L386.78,164.11 L386.29,164.14 L385.79,164.16 L385.30,164.19 L384.80,164.22 L384.31,164.24 L383.82,164.27 L383.32,164.30 L382.83,164.32 L382.34,164.35 L381.84,164.38 L381.35,164.40 L380.86,164.43 L380.36,164.46 L379.87,164.48 L379.38,164.51 L378.88,164.53 L378.39,164.56 L377.90,164.58 L377.40,164.61 L376.91,164.64 L376.41,164.66 L375.92,164.69 L375.43,164.71 L374.93,164.74 L374.44,164.76 L373.95,164.78 L373.45,164.81 L372.96,164.83 L372.47,164.86 L371.97,164.88 L371.48,164.91 L370.99,164.93 L370.49,164.95 L370.00,164.98 L369.51,165.00 L369.01,165.02 L368.52,165.05 L368.02,165.07 L367.53,165.09 L367.04,165.12 L366.54,165.14 L366.05,165.16 L365.56,165.19 L365.06,165.21 L364.57,165.23 L364.08,165.25 L363.58,165.28 L363.09,165.30 L362.60,165.32 L362.10,165.34 L361.61,165.37 L361.12,165.39 L360.62,165.41 L360.13,165.43 L359.63,165.46 L359.14,165.48 L358.65,165.50 L358.15,165.52 L357.66,165.55 L357.17,165.57 L356.67,165.59 L356.18,165.61 L355.69,165.64 L355.19,165.66 L354.70,165.68 L354.21,165.70 L353.71,165.72 L353.22,165.75 L352.73,165.77 L352.23,165.79 L351.74,165.81 L351.24,165.83 L350.75,165.86 L350.26,165.88 L349.76,165.90 L349.27,165.92 L348.78,165.94 L348.28,165.96 L347.79,165.98 L347.30,166.01 L346.80,166.03 L346.31,166.05 L345.82,166.07 L345.32,166.09 L344.83,166.11 L344.34,166.13 L343.84,166.15 L343.35,166.17 L342.85,166.19 L342.36,166.21 L341.87,166.23 L341.37,166.25 L340.88,166.27 L340.39,166.29 L339.89,166.31 L339.40,166.33" fill="none" stroke="#b04cff" stroke-width="1.2" stroke-linejoin="round" stroke-linecap="round" />
<path d="M536.32,39.34 L535.82,50.51 L535.33,59.71 L534.84,66.03 L534.34,71.75 L533.85,76.80 L533.36,80.86 L532.86,83.73 L532.37,86.21 L531.88,88.55 L531.38,90.75 L530.89,92.79 L530.39,94.69 L529.90,96.43 L529.41,98.10 L528.91,99.77 L528.42,101.41 L527.93,103.02 L527.43,104.58 L526.94,106.08 L526.45,107.51 L525.95,108.86 L525.46,110.12 L524.97,111.36 L524.47,112.60 L523.98,113.83 L523.49,115.04 L522.99,116.23 L522.50,117.39 L522.00,118.52 L521.51,119.61 L521.02,120.66 L520.52,121.66 L520.03,122.60 L519.54,123.48 L519.04,124.30 L518.55,125.06 L518.06,125.78 L517.56,126.47 L517.07,127.14 L516.58,127.79 L516.08,128.42 L515.59,129.03 L515.10,129.63 L514.60,130.21 L514.11,130.79 L513.61,131.36 L513.12,131.93 L512.63,132.49 L512.13,133.07 L511.64,133.67 L511.15,134.27 L510.65,134.88 L510.16,135.48 L509.67,136.05 L509.17,136.60 L508.68,137.10 L508.19,137.56 L507.69,137.95 L507.20,138.28 L506.71,138.59 L506.21,138.88 L505.72,139.16 L505.22,139.42 L504.73,139.67 L504.24,139.90 L503.74,140.12 L503.25,140.32 L502.76,140.50 L502.26,140.67 L501.77,140.82 L501.28,140.94 L500.78,141.06 L500.29,141.18 L499.80,141.29 L499.30,141.41 L498.81,141.52 L498.32,141.63 L497.82,141.73 L497.33,141.83 L496.83,141.91 L496.34,141.99 L495.85,142.05 L495.35,142.10 L494.86,142.13 L494.37,142.15 L493.87,142.16 L493.38,142.16 L492.89,142.15 L492.39,142.13 L491.90,142.11 L491.41,142.08 L490.91,142.04 L490.42,142.00 L489.93,141.95 L489.43,141.90 L488.94,141.84 L488.45,141.77 L487.95,141.70 L487.46,141.63 L486.96,141.55 L486.47,141.47 L485.98,141.39 L485.48,141.30 L484.99,141.21 L484.50,141.12 L484.00,141.03 L483.51,140.93 L483.02,140.83 L482.52,140.74 L482.03,140.64 L481.54,140.54 L481.04,140.44 L480.55,140.34 L480.06,140.25 L479.56,140.14 L479.07,140.02 L478.57,139.88 L478.08,139.72 L477.59,139.54 L477.09,139.34 L476.60,139.12 L476.11,138.89 L475.61,138.64 L475.12,138.38 L474.63,138.10 L474.13,137.80 L473.64,137.49 L473.15,137.17 L472.65,136.83 L472.16,136.48 L471.67,136.10 L471.17,135.65 L470.68,135.16 L470.18,134.61 L469.69,134.04 L469.20,133.43 L468.70,132.81 L468.21,132.18 L467.72,131.55 L467.22,130.94 L466.73,130.34 L466.24,129.77 L465.74,129.23 L465.25,128.72 L464.76,128.22 L464.26,127.73 L463.77,127.23 L463.28,126.73 L462.78,126.21 L462.29,125.67 L461.79,125.10 L461.30,124.48 L460.81,123.82 L460.31,123.10 L459.82,122.21 L459.33,120.86 L458.83,119.11 L458.34,117.04 L457.85,114.73 L457.35,112.25 L456.86,109.68 L456.37,107.10 L455.87,104.52 L455.38,101.50 L454.89,98.19 L454.39,94.88 L453.90,91.88 L453.40,89.39 L452.91,87.08 L452.42,85.02 L451.92,83.38 L451.43,82.35 L450.94,82.09 L450.44,82.56 L449.95,83.65 L449.46,85.25 L448.96,87.23 L448.47,89.75 L447.98,93.07 L447.48,96.84 L446.99,100.72 L446.50,104.37 L446.00,107.57 L445.51,110.73 L445.01,113.85 L444.52,116.87 L444.03,119.68 L443.53,122.22 L443.04,124.42 L442.55,126.42 L442.05,128.30 L441.56,130.07 L441.07,131.73 L440.57,133.30 L440.08,134.79 L439.59,136.21 L439.09,137.58 L438.60,138.95 L438.11,140.27 L437.61,141.54 L437.12,142.73 L436.62,143.81 L436.13,144.78 L435.64,145.69 L435.14,146.56 L434.65,147.39 L434.16,148.18 L433.66,148.90 L433.17,149.56 L432.68,150.16 L432.18,150.75 L431.69,151.35 L431.20,151.94 L430.70,152.52 L430.21,153.09 L429.72,153.63 L429.22,154.15 L428.73,154.63 L428.23,155.07 L427.74,155.46 L427.25,155.80 L426.75,156.08 L426.26,156.32 L425.77,156.55 L425.27,156.78 L424.78,157.01 L424.29,157.23 L423.79,157.45 L423.30,157.67 L422.81,157.89 L422.31,158.10 L421.82,158.31 L421.33,158.51 L420.83,158.70 L420.34,158.90 L419.84,159.08 L419.35,159.26 L418.86,159.43 L418.36,159.60 L417.87,159.76 L417.38,159.91 L416.88,160.06 L416.39,160.19 L415.90,160.32 L415.40,160.44 L414.91,160.55 L414.42,160.65 L413.92,160.74 L413.43,160.83 L412.94,160.90 L412.44,160.96 L411.95,161.03 L411.45,161.10 L410.96,161.16 L410.47,161.23 L409.97,161.29 L409.48,161.36 L408.99,161.43 L408.49,161.49 L408.00,161.56 L407.51,161.62 L407.01,161.69 L406.52,161.75 L406.03,161.82 L405.53,161.88 L405.04,161.94 L404.55,162.01 L404.05,162.07 L403.56,162.13 L403.06,162.19 L402.57,162.25 L402.08,162.31 L401.58,162.37 L401.09,162.43 L400.60,162.49 L400.10,162.55 L399.61,162.61 L399.12,162.66 L398.62,162.72 L398.13,162.77 L397.64,162.83 L397.14,162.88 L396.65,162.93 L396.16,162.98 L395.66,163.03 L395.17,163.08 L394.67,163.13 L394.18,163.18 L393.69,163.22 L393.19,163.27 L392.70,163.31 L392.21,163.35 L391.71,163.39 L391.22,163.43 L390.73,163.47 L390.23,163.51 L389.74,163.54 L389.25,163.58 L388.75,163.61 L388.26,163.64 L387.77,163.67 L387.27,163.70 L386.78,163.73 L386.29,163.77 L385.79,163.80 L385.30,163.83 L384.80,163.86 L384.31,163.89 L383.82,163.92 L383.32,163.95 L382.83,163.98 L382.34,164.01 L381.84,164.03 L381.35,164.06 L380.86,164.09 L380.36,164.12 L379.87,164.15 L379.38,164.18 L378.88,164.21 L378.39,164.24 L377.90,164.27 L377.40,164.29 L376.91,164.32 L376.41,164.35 L375.92,164.38 L375.43,164.41 L374.93,164.43 L374.44,164.46 L373.95,164.49 L373.45,164.52 L372.96,164.54 L372.47,164.57 L371.97,164.60 L371.48,164.62 L370.99,164.65 L370.49,164.68 L370.00,164.70 L369.51,164.73 L369.01,164.76 L368.52,164.78 L368.02,164.81 L367.53,164.84 L367.04,164.86 L366.54,164.89 L366.05,164.91 L365.56,164.94 L365.06,164.96 L364.57,164.99 L364.08,165.01 L363.58,165.04 L363.09,165.06 L362.60,165.09 L362.10,165.12 L361.61,165.14 L361.12,165.17 L360.62,165.19 L360.13,165.22 L359.63,165.24 L359.14,165.27 L358.65,165.29 L358.15,165.32 L357.66,165.34 L357.17,165.37 L356.67,165.39 L356.18,165.42 L355.69,165.44 L355.19,165.47 L354.70,165.49 L354.21,165.52 L353.71,165.54 L353.22,165.56 L352.73,165.59 L352.23,165.61 L351.74,165.64 L351.24,165.66 L350.75,165.69 L350.26,165.71 L349.76,165.74 L349.27,165.76 L348.78,165.78 L348.28,165.81 L347.79,165.83 L347.30,165.86 L346.80,165.88 L346.31,165.90 L345.82,165.93 L345.32,165.95 L344.83,165.97 L344.34,166.00 L343.84,166.02 L343.35,166.04 L342.85,166.07 L342.36,166.09 L341.87,166.11 L341.37,166.13 L340.88,166.16 L340.39,166.18 L339.89,166.20 L339.40,166.22" fill="none" stroke="#3f3fa6" stroke-width="1.2" stroke-linejoin="round" stroke-linecap="round" />
<path d="M536.32,30.47 L535.82,43.10 L535.33,53.46 L534.84,60.49 L534.34,66.85 L533.85,72.44 L533.36,76.89 L532.86,79.94 L532.37,82.56 L531.88,85.02 L531.38,87.32 L530.89,89.47 L530.39,91.45 L529.90,93.27 L529.41,95.02 L528.91,96.76 L528.42,98.48 L527.93,100.17 L527.43,101.80 L526.94,103.38 L526.45,104.88 L525.95,106.28 L525.46,107.60 L524.97,108.90 L524.47,110.19 L523.98,111.47 L523.49,112.74 L522.99,113.98 L522.50,115.19 L522.00,116.37 L521.51,117.51 L521.02,118.60 L520.52,119.64 L520.03,120.63 L519.54,121.56 L519.04,122.41 L518.55,123.21 L518.06,123.97 L517.56,124.70 L517.07,125.41 L516.58,126.09 L516.08,126.76 L515.59,127.40 L515.10,128.03 L514.60,128.65 L514.11,129.26 L513.61,129.86 L513.12,130.46 L512.63,131.05 L512.13,131.66 L511.64,132.28 L511.15,132.92 L510.65,133.55 L510.16,134.17 L509.67,134.77 L509.17,135.34 L508.68,135.87 L508.19,136.34 L507.69,136.75 L507.20,137.09 L506.71,137.40 L506.21,137.70 L505.72,137.99 L505.22,138.26 L504.73,138.52 L504.24,138.76 L503.74,138.98 L503.25,139.19 L502.76,139.37 L502.26,139.54 L501.77,139.69 L501.28,139.82 L500.78,139.93 L500.29,140.05 L499.80,140.16 L499.30,140.28 L498.81,140.39 L498.32,140.50 L497.82,140.60 L497.33,140.69 L496.83,140.77 L496.34,140.85 L495.85,140.91 L495.35,140.95 L494.86,140.98 L494.37,141.00 L493.87,141.00 L493.38,141.00 L492.89,140.98 L492.39,140.96 L491.90,140.94 L491.41,140.90 L490.91,140.86 L490.42,140.81 L489.93,140.76 L489.43,140.70 L488.94,140.63 L488.45,140.56 L487.95,140.49 L487.46,140.41 L486.96,140.33 L486.47,140.24 L485.98,140.15 L485.48,140.06 L484.99,139.96 L484.50,139.87 L484.00,139.77 L483.51,139.67 L483.02,139.56 L482.52,139.46 L482.03,139.36 L481.54,139.26 L481.04,139.15 L480.55,139.05 L480.06,138.95 L479.56,138.84 L479.07,138.71 L478.57,138.56 L478.08,138.39 L477.59,138.19 L477.09,137.97 L476.60,137.74 L476.11,137.49 L475.61,137.22 L475.12,136.94 L474.63,136.64 L474.13,136.33 L473.64,136.01 L473.15,135.68 L472.65,135.34 L472.16,134.98 L471.67,134.60 L471.17,134.13 L470.68,133.59 L470.18,133.00 L469.69,132.36 L469.20,131.69 L468.70,130.99 L468.21,130.27 L467.72,129.55 L467.22,128.84 L466.73,128.15 L466.24,127.48 L465.74,126.82 L465.25,126.16 L464.76,125.49 L464.26,124.80 L463.77,124.09 L463.28,123.36 L462.78,122.59 L462.29,121.77 L461.79,120.91 L461.30,119.99 L460.81,119.02 L460.31,117.97 L459.82,116.73 L459.33,114.98 L458.83,112.78 L458.34,110.23 L457.85,107.40 L457.35,104.38 L456.86,101.27 L456.37,98.14 L455.87,95.00 L455.38,91.34 L454.89,87.34 L454.39,83.37 L453.90,79.80 L453.40,76.89 L452.91,74.22 L452.42,71.87 L451.92,70.05 L451.43,68.95 L450.94,68.77 L450.44,69.45 L449.95,70.84 L449.46,72.81 L448.96,75.20 L448.47,78.21 L447.98,82.15 L447.48,86.62 L446.99,91.20 L446.50,95.50 L446.00,99.25 L445.51,102.96 L445.01,106.62 L444.52,110.13 L444.03,113.41 L443.53,116.35 L443.04,118.86 L442.55,121.13 L442.05,123.26 L441.56,125.26 L441.07,127.14 L440.57,128.93 L440.08,130.63 L439.59,132.26 L439.09,133.87 L438.60,135.48 L438.11,137.04 L437.61,138.55 L437.12,139.95 L436.62,141.24 L436.13,142.38 L435.64,143.46 L435.14,144.50 L434.65,145.49 L434.16,146.41 L433.66,147.26 L433.17,148.02 L432.68,148.69 L432.18,149.35 L431.69,150.01 L431.20,150.67 L430.70,151.31 L430.21,151.94 L429.72,152.54 L429.22,153.10 L428.73,153.63 L428.23,154.11 L427.74,154.53 L427.25,154.89 L426.75,155.19 L426.26,155.44 L425.77,155.68 L425.27,155.93 L424.78,156.17 L424.29,156.41 L423.79,156.64 L423.30,156.88 L422.81,157.10 L422.31,157.33 L421.82,157.55 L421.33,157.76 L420.83,157.97 L420.34,158.18 L419.84,158.38 L419.35,158.57 L418.86,158.75 L418.36,158.93 L417.87,159.10 L417.38,159.27 L416.88,159.42 L416.39,159.57 L415.90,159.71 L415.40,159.83 L414.91,159.95 L414.42,160.06 L413.92,160.16 L413.43,160.25 L412.94,160.32 L412.44,160.39 L411.95,160.46 L411.45,160.53 L410.96,160.60 L410.47,160.67 L409.97,160.74 L409.48,160.81 L408.99,160.88 L408.49,160.95 L408.00,161.02 L407.51,161.09 L407.01,161.16 L406.52,161.23 L406.03,161.30 L405.53,161.37 L405.04,161.43 L404.55,161.50 L404.05,161.57 L403.56,161.63 L403.06,161.70 L402.57,161.77 L402.08,161.83 L401.58,161.89 L401.09,161.96 L400.60,162.02 L400.10,162.08 L399.61,162.14 L399.12,162.20 L398.62,162.26 L398.13,162.32 L397.64,162.38 L397.14,162.43 L396.65,162.49 L396.16,162.54 L395.66,162.60 L395.17,162.65 L394.67,162.70 L394.18,162.75 L393.69,162.80 L393.19,162.85 L392.70,162.90 L392.21,162.94 L391.71,162.99 L391.22,163.03 L390.73,163.07 L390.23,163.11 L389.74,163.15 L389.25,163.19 L388.75,163.22 L388.26,163.26 L387.77,163.29 L387.27,163.33 L386.78,163.36 L386.29,163.39 L385.79,163.43 L385.30,163.46 L384.80,163.49 L384.31,163.53 L383.82,163.56 L383.32,163.59 L382.83,163.63 L382.34,163.66 L381.84,163.69 L381.35,163.72 L380.86,163.76 L380.36,163.79 L379.87,163.82 L379.38,163.85 L378.88,163.88 L378.39,163.91 L377.90,163.95 L377.40,163.98 L376.91,164.01 L376.41,164.04 L375.92,164.07 L375.43,164.10 L374.93,164.13 L374.44,164.16 L373.95,164.19 L373.45,164.22 L372.96,164.25 L372.47,164.28 L371.97,164.31 L371.48,164.34 L370.99,164.37 L370.49,164.40 L370.00,164.43 L369.51,164.46 L369.01,164.49 L368.52,164.52 L368.02,164.55 L367.53,164.58 L367.04,164.60 L366.54,164.63 L366.05,164.66 L365.56,164.69 L365.06,164.72 L364.57,164.75 L364.08,164.77 L363.58,164.80 L363.09,164.83 L362.60,164.86 L362.10,164.89 L361.61,164.91 L361.12,164.94 L360.62,164.97 L360.13,165.00 L359.63,165.02 L359.14,165.05 L358.65,165.08 L358.15,165.11 L357.66,165.14 L357.17,165.16 L356.67,165.19 L356.18,165.22 L355.69,165.25 L355.19,165.27 L354.70,165.30 L354.21,165.33 L353.71,165.36 L353.22,165.38 L352.73,165.41 L352.23,165.44 L351.74,165.46 L351.24,165.49 L350.75,165.52 L350.26,165.55 L349.76,165.57 L349.27,165.60 L348.78,165.63 L348.28,165.65 L347.79,165.68 L347.30,165.71 L346.80,165.73 L346.31,165.76 L345.82,165.78 L345.32,165.81 L344.83,165.84 L344.34,165.86 L343.84,165.89 L343.35,165.91 L342.85,165.94 L342.36,165.96 L341.87,165.99 L341.37,166.01 L340.88,166.04 L340.39,166.06 L339.89,166.09 L339.40,166.11" fill="none" stroke="#2fa34f" stroke-width="1.2" stroke-linejoin="round" stroke-linecap="round" />
<path d="M536.32,21.59 L535.82,35.69 L535.33,47.21 L534.84,54.95 L534.34,61.95 L533.85,68.08 L533.36,72.92 L532.86,76.16 L532.37,78.90 L531.88,81.48 L531.38,83.90 L530.89,86.14 L530.39,88.21 L529.90,90.11 L529.41,91.93 L528.91,93.75 L528.42,95.55 L527.93,97.32 L527.43,99.03 L526.94,100.68 L526.45,102.24 L525.95,103.71 L525.46,105.08 L524.97,106.44 L524.47,107.78 L523.98,109.12 L523.49,110.43 L522.99,111.73 L522.50,112.99 L522.00,114.21 L521.51,115.40 L521.02,116.54 L520.52,117.63 L520.03,118.66 L519.54,119.63 L519.04,120.53 L518.55,121.36 L518.06,122.16 L517.56,122.93 L517.07,123.67 L516.58,124.39 L516.08,125.10 L515.59,125.78 L515.10,126.44 L514.60,127.10 L514.11,127.74 L513.61,128.37 L513.12,128.99 L512.63,129.61 L512.13,130.25 L511.64,130.90 L511.15,131.56 L510.65,132.22 L510.16,132.87 L509.67,133.49 L509.17,134.09 L508.68,134.63 L508.19,135.12 L507.69,135.54 L507.20,135.89 L506.71,136.21 L506.21,136.52 L505.72,136.82 L505.22,137.10 L504.73,137.36 L504.24,137.61 L503.74,137.84 L503.25,138.05 L502.76,138.24 L502.26,138.41 L501.77,138.56 L501.28,138.69 L500.78,138.80 L500.29,138.92 L499.80,139.03 L499.30,139.14 L498.81,139.25 L498.32,139.36 L497.82,139.46 L497.33,139.55 L496.83,139.63 L496.34,139.70 L495.85,139.76 L495.35,139.80 L494.86,139.83 L494.37,139.84 L493.87,139.84 L493.38,139.84 L492.89,139.82 L492.39,139.80 L491.90,139.77 L491.41,139.73 L490.91,139.68 L490.42,139.63 L489.93,139.57 L489.43,139.50 L488.94,139.43 L488.45,139.36 L487.95,139.28 L487.46,139.19 L486.96,139.11 L486.47,139.01 L485.98,138.92 L485.48,138.82 L484.99,138.72 L484.50,138.62 L484.00,138.51 L483.51,138.41 L483.02,138.30 L482.52,138.19 L482.03,138.08 L481.54,137.98 L481.04,137.87 L480.55,137.76 L480.06,137.66 L479.56,137.54 L479.07,137.41 L478.57,137.24 L478.08,137.06 L477.59,136.85 L477.09,136.62 L476.60,136.37 L476.11,136.11 L475.61,135.82 L475.12,135.53 L474.63,135.21 L474.13,134.89 L473.64,134.56 L473.15,134.21 L472.65,133.86 L472.16,133.50 L471.67,133.10 L471.17,132.61 L470.68,132.05 L470.18,131.43 L469.69,130.75 L469.20,130.04 L468.70,129.29 L468.21,128.52 L467.72,127.75 L467.22,126.98 L466.73,126.23 L466.24,125.50 L465.74,124.77 L465.25,124.01 L464.76,123.23 L464.26,122.42 L463.77,121.57 L463.28,120.68 L462.78,119.75 L462.29,118.76 L461.79,117.71 L461.30,116.60 L460.81,115.42 L460.31,114.17 L459.82,112.70 L459.33,110.68 L458.83,108.18 L458.34,105.29 L457.85,102.10 L457.35,98.70 L456.86,95.20 L456.37,91.68 L455.87,88.15 L455.38,84.03 L454.89,79.53 L454.39,75.08 L453.90,71.10 L453.40,67.88 L452.91,64.97 L452.42,62.41 L451.92,60.45 L451.43,59.31 L450.94,59.18 L450.44,60.00 L449.95,61.62 L449.46,63.85 L448.96,66.54 L448.47,69.90 L447.98,74.29 L447.48,79.25 L446.99,84.35 L446.50,89.11 L446.00,93.26 L445.51,97.36 L445.01,101.41 L444.52,105.29 L444.03,108.89 L443.53,112.11 L443.04,114.86 L442.55,117.33 L442.05,119.64 L441.56,121.81 L441.07,123.85 L440.57,125.78 L440.08,127.62 L439.59,129.40 L439.09,131.14 L438.60,132.89 L438.11,134.59 L437.61,136.23 L437.12,137.76 L436.62,139.16 L436.13,140.41 L435.64,141.59 L435.14,142.72 L434.65,143.79 L434.16,144.80 L433.66,145.72 L433.17,146.55 L432.68,147.28 L432.18,147.99 L431.69,148.71 L431.20,149.42 L430.70,150.12 L430.21,150.79 L429.72,151.44 L429.22,152.05 L428.73,152.62 L428.23,153.14 L427.74,153.59 L427.25,153.98 L426.75,154.30 L426.26,154.56 L425.77,154.82 L425.27,155.08 L424.78,155.34 L424.29,155.59 L423.79,155.84 L423.30,156.09 L422.81,156.33 L422.31,156.57 L421.82,156.80 L421.33,157.03 L420.83,157.26 L420.34,157.47 L419.84,157.68 L419.35,157.89 L418.86,158.08 L418.36,158.27 L417.87,158.45 L417.38,158.63 L416.88,158.79 L416.39,158.95 L415.90,159.09 L415.40,159.23 L414.91,159.35 L414.42,159.47 L413.92,159.57 L413.43,159.67 L412.94,159.75 L412.44,159.82 L411.95,159.90 L411.45,159.97 L410.96,160.04 L410.47,160.12 L409.97,160.19 L409.48,160.27 L408.99,160.34 L408.49,160.42 L408.00,160.49 L407.51,160.56 L407.01,160.64 L406.52,160.71 L406.03,160.78 L405.53,160.85 L405.04,160.93 L404.55,161.00 L404.05,161.07 L403.56,161.14 L403.06,161.21 L402.57,161.28 L402.08,161.35 L401.58,161.41 L401.09,161.48 L400.60,161.55 L400.10,161.61 L399.61,161.68 L399.12,161.74 L398.62,161.81 L398.13,161.87 L397.64,161.93 L397.14,161.99 L396.65,162.05 L396.16,162.11 L395.66,162.16 L395.17,162.22 L394.67,162.28 L394.18,162.33 L393.69,162.38 L393.19,162.43 L392.70,162.49 L392.21,162.53 L391.71,162.58 L391.22,162.63 L390.73,162.67 L390.23,162.72 L389.74,162.76 L389.25,162.80 L388.75,162.84 L388.26,162.88 L387.77,162.91 L387.27,162.95 L386.78,162.99 L386.29,163.02 L385.79,163.06 L385.30,163.10 L384.80,163.13 L384.31,163.17 L383.82,163.21 L383.32,163.24 L382.83,163.28 L382.34,163.31 L381.84,163.35 L381.35,163.38 L380.86,163.42 L380.36,163.45 L379.87,163.49 L379.38,163.52 L378.88,163.56 L378.39,163.59 L377.90,163.63 L377.40,163.66 L376.91,163.69 L376.41,163.73 L375.92,163.76 L375.43,163.80 L374.93,163.83 L374.44,163.86 L373.95,163.90 L373.45,163.93 L372.96,163.96 L372.47,163.99 L371.97,164.03 L371.48,164.06 L370.99,164.09 L370.49,164.12 L370.00,164.16 L369.51,164.19 L369.01,164.22 L368.52,164.25 L368.02,164.28 L367.53,164.32 L367.04,164.35 L366.54,164.38 L366.05,164.41 L365.56,164.44 L365.06,164.47 L364.57,164.50 L364.08,164.53 L363.58,164.56 L363.09,164.59 L362.60,164.62 L362.10,164.66 L361.61,164.69 L361.12,164.72 L360.62,164.75 L360.13,164.78 L359.63,164.81 L359.14,164.84 L358.65,164.87 L358.15,164.90 L357.66,164.93 L357.17,164.96 L356.67,164.99 L356.18,165.02 L355.69,165.05 L355.19,165.08 L354.70,165.11 L354.21,165.14 L353.71,165.17 L353.22,165.20 L352.73,165.23 L352.23,165.26 L351.74,165.29 L351.24,165.32 L350.75,165.35 L350.26,165.38 L349.76,165.41 L349.27,165.44 L348.78,165.47 L348.28,165.50 L347.79,165.53 L347.30,165.55 L346.80,165.58 L346.31,165.61 L345.82,165.64 L345.32,165.67 L344.83,165.70 L344.34,165.73 L343.84,165.75 L343.35,165.78 L342.85,165.81 L342.36,165.84 L341.87,165.87 L341.37,165.89 L340.88,165.92 L340.39,165.95 L339.89,165.97 L339.40,166.00" fill="none" stroke="#ff70ff" stroke-width="1.2" stroke-linejoin="round" stroke-linecap="round" />
<path d="M536.32,12.72 L535.82,28.28 L535.33,40.97 L534.84,49.41 L534.34,57.05 L533.85,63.73 L533.36,68.94 L532.86,72.37 L532.37,75.25 L531.88,77.95 L531.38,80.47 L530.89,82.81 L530.39,84.97 L529.90,86.95 L529.41,88.85 L528.91,90.75 L528.42,92.62 L527.93,94.46 L527.43,96.25 L526.94,97.97 L526.45,99.61 L525.95,101.14 L525.46,102.57 L524.97,103.98 L524.47,105.38 L523.98,106.76 L523.49,108.13 L522.99,109.47 L522.50,110.79 L522.00,112.06 L521.51,113.30 L521.02,114.48 L520.52,115.61 L520.03,116.69 L519.54,117.70 L519.04,118.64 L518.55,119.51 L518.06,120.35 L517.56,121.16 L517.07,121.94 L516.58,122.70 L516.08,123.43 L515.59,124.15 L515.10,124.85 L514.60,125.54 L514.11,126.21 L513.61,126.87 L513.12,127.53 L512.63,128.17 L512.13,128.83 L511.64,129.51 L511.15,130.20 L510.65,130.89 L510.16,131.57 L509.67,132.22 L509.17,132.83 L508.68,133.39 L508.19,133.90 L507.69,134.34 L507.20,134.70 L506.71,135.03 L506.21,135.35 L505.72,135.65 L505.22,135.94 L504.73,136.21 L504.24,136.46 L503.74,136.70 L503.25,136.92 L502.76,137.11 L502.26,137.28 L501.77,137.44 L501.28,137.56 L500.78,137.67 L500.29,137.79 L499.80,137.90 L499.30,138.01 L498.81,138.12 L498.32,138.22 L497.82,138.32 L497.33,138.41 L496.83,138.49 L496.34,138.56 L495.85,138.62 L495.35,138.66 L494.86,138.68 L494.37,138.69 L493.87,138.69 L493.38,138.68 L492.89,138.66 L492.39,138.63 L491.90,138.60 L491.41,138.55 L490.91,138.50 L490.42,138.44 L489.93,138.38 L489.43,138.31 L488.94,138.23 L488.45,138.15 L487.95,138.07 L487.46,137.98 L486.96,137.88 L486.47,137.79 L485.98,137.68 L485.48,137.58 L484.99,137.47 L484.50,137.37 L484.00,137.26 L483.51,137.14 L483.02,137.03 L482.52,136.92 L482.03,136.81 L481.54,136.69 L481.04,136.58 L480.55,136.47 L480.06,136.36 L479.56,136.25 L479.07,136.10 L478.57,135.93 L478.08,135.73 L477.59,135.51 L477.09,135.27 L476.60,135.01 L476.11,134.73 L475.61,134.43 L475.12,134.11 L474.63,133.79 L474.13,133.45 L473.64,133.10 L473.15,132.74 L472.65,132.38 L472.16,132.01 L471.67,131.59 L471.17,131.09 L470.68,130.49 L470.18,129.82 L469.69,129.10 L469.20,128.32 L468.70,127.51 L468.21,126.67 L467.72,125.83 L467.22,124.98 L466.73,124.15 L466.24,123.34 L465.74,122.51 L465.25,121.63 L464.76,120.71 L464.26,119.73 L463.77,118.70 L463.28,117.61 L462.78,116.45 L462.29,115.23 L461.79,113.94 L461.30,112.58 L460.81,111.13 L460.31,109.60 L459.82,107.85 L459.33,105.49 L458.83,102.60 L458.34,99.28 L457.85,95.64 L457.35,91.77 L456.86,87.79 L456.37,83.79 L455.87,79.77 L455.38,75.08 L454.89,69.98 L454.39,64.95 L453.90,60.46 L453.40,56.88 L452.91,53.65 L452.42,50.85 L451.92,48.72 L451.43,47.52 L450.94,47.46 L450.44,48.46 L449.95,50.34 L449.46,52.90 L448.96,55.95 L448.47,59.74 L447.98,64.68 L447.48,70.25 L446.99,75.97 L446.50,81.30 L446.00,85.94 L445.51,90.52 L445.01,95.04 L444.52,99.36 L444.03,103.37 L443.53,106.94 L443.04,109.97 L442.55,112.68 L442.05,115.21 L441.56,117.58 L441.07,119.81 L440.57,121.93 L440.08,123.96 L439.59,125.92 L439.09,127.86 L438.60,129.80 L438.11,131.70 L437.61,133.52 L437.12,135.24 L436.62,136.80 L436.13,138.19 L435.64,139.51 L435.14,140.78 L434.65,141.98 L434.16,143.10 L433.66,144.12 L433.17,145.03 L432.68,145.83 L432.18,146.61 L431.69,147.39 L431.20,148.16 L430.70,148.91 L430.21,149.65 L429.72,150.34 L429.22,151.00 L428.73,151.61 L428.23,152.17 L427.74,152.66 L427.25,153.07 L426.75,153.41 L426.26,153.69 L425.77,153.96 L425.27,154.23 L424.78,154.51 L424.29,154.77 L423.79,155.04 L423.30,155.30 L422.81,155.55 L422.31,155.81 L421.82,156.05 L421.33,156.29 L420.83,156.53 L420.34,156.76 L419.84,156.98 L419.35,157.20 L418.86,157.41 L418.36,157.61 L417.87,157.80 L417.38,157.98 L416.88,158.16 L416.39,158.32 L415.90,158.48 L415.40,158.62 L414.91,158.76 L414.42,158.88 L413.92,158.99 L413.43,159.09 L412.94,159.17 L412.44,159.25 L411.95,159.33 L411.45,159.41 L410.96,159.49 L410.47,159.57 L409.97,159.64 L409.48,159.72 L408.99,159.80 L408.49,159.88 L408.00,159.96 L407.51,160.03 L407.01,160.11 L406.52,160.19 L406.03,160.27 L405.53,160.34 L405.04,160.42 L404.55,160.49 L404.05,160.57 L403.56,160.64 L403.06,160.72 L402.57,160.79 L402.08,160.86 L401.58,160.93 L401.09,161.01 L400.60,161.08 L400.10,161.15 L399.61,161.21 L399.12,161.28 L398.62,161.35 L398.13,161.42 L397.64,161.48 L397.14,161.54 L396.65,161.61 L396.16,161.67 L395.66,161.73 L395.17,161.79 L394.67,161.85 L394.18,161.91 L393.69,161.96 L393.19,162.02 L392.70,162.07 L392.21,162.13 L391.71,162.18 L391.22,162.23 L390.73,162.27 L390.23,162.32 L389.74,162.37 L389.25,162.41 L388.75,162.45 L388.26,162.49 L387.77,162.53 L387.27,162.57 L386.78,162.61 L386.29,162.65 L385.79,162.69 L385.30,162.73 L384.80,162.77 L384.31,162.81 L383.82,162.85 L383.32,162.89 L382.83,162.93 L382.34,162.97 L381.84,163.00 L381.35,163.04 L380.86,163.08 L380.36,163.12 L379.87,163.16 L379.38,163.19 L378.88,163.23 L378.39,163.27 L377.90,163.31 L377.40,163.34 L376.91,163.38 L376.41,163.42 L375.92,163.45 L375.43,163.49 L374.93,163.53 L374.44,163.56 L373.95,163.60 L373.45,163.63 L372.96,163.67 L372.47,163.71 L371.97,163.74 L371.48,163.78 L370.99,163.81 L370.49,163.85 L370.00,163.88 L369.51,163.92 L369.01,163.95 L368.52,163.99 L368.02,164.02 L367.53,164.06 L367.04,164.09 L366.54,164.12 L366.05,164.16 L365.56,164.19 L365.06,164.22 L364.57,164.26 L364.08,164.29 L363.58,164.33 L363.09,164.36 L362.60,164.39 L362.10,164.43 L361.61,164.46 L361.12,164.49 L360.62,164.53 L360.13,164.56 L359.63,164.59 L359.14,164.62 L358.65,164.66 L358.15,164.69 L357.66,164.72 L357.17,164.76 L356.67,164.79 L356.18,164.82 L355.69,164.86 L355.19,164.89 L354.70,164.92 L354.21,164.95 L353.71,164.99 L353.22,165.02 L352.73,165.05 L352.23,165.08 L351.74,165.12 L351.24,165.15 L350.75,165.18 L350.26,165.21 L349.76,165.25 L349.27,165.28 L348.78,165.31 L348.28,165.34 L347.79,165.37 L347.30,165.40 L346.80,165.44 L346.31,165.47 L345.82,165.50 L345.32,165.53 L344.83,165.56 L344.34,165.59 L343.84,165.62 L343.35,165.65 L342.85,165.68 L342.36,165.71 L341.87,165.74 L341.37,165.77 L340.88,165.80 L340.39,165.83 L339.89,165.86 L339.40,165.89" fill="none" stroke="#4a5cff" stroke-width="1.2" stroke-linejoin="round" stroke-linecap="round" />
<path d="M536.32,3.84 L535.82,20.87 L535.33,34.72 L534.84,43.87 L534.34,52.15 L533.85,59.37 L533.36,64.97 L532.86,68.59 L532.37,71.59 L531.88,74.41 L531.38,77.04 L530.89,79.49 L530.39,81.74 L529.90,83.79 L529.41,85.76 L528.91,87.74 L528.42,89.69 L527.93,91.61 L527.43,93.48 L526.94,95.27 L526.45,96.97 L525.95,98.57 L525.46,100.05 L524.97,101.52 L524.47,102.97 L523.98,104.41 L523.49,105.83 L522.99,107.22 L522.50,108.59 L522.00,109.91 L521.51,111.19 L521.02,112.42 L520.52,113.60 L520.03,114.72 L519.54,115.77 L519.04,116.75 L518.55,117.66 L518.06,118.54 L517.56,119.38 L517.07,120.20 L516.58,121.00 L516.08,121.77 L515.59,122.53 L515.10,123.26 L514.60,123.98 L514.11,124.68 L513.61,125.38 L513.12,126.06 L512.63,126.73 L512.13,127.42 L511.64,128.13 L511.15,128.85 L510.65,129.56 L510.16,130.26 L509.67,130.94 L509.17,131.57 L508.68,132.16 L508.19,132.68 L507.69,133.13 L507.20,133.50 L506.71,133.84 L506.21,134.17 L505.72,134.48 L505.22,134.78 L504.73,135.06 L504.24,135.32 L503.74,135.56 L503.25,135.78 L502.76,135.98 L502.26,136.16 L501.77,136.31 L501.28,136.44 L500.78,136.55 L500.29,136.66 L499.80,136.77 L499.30,136.88 L498.81,136.99 L498.32,137.09 L497.82,137.18 L497.33,137.27 L496.83,137.35 L496.34,137.42 L495.85,137.47 L495.35,137.51 L494.86,137.53 L494.37,137.54 L493.87,137.53 L493.38,137.52 L492.89,137.50 L492.39,137.46 L491.90,137.42 L491.41,137.38 L490.91,137.32 L490.42,137.26 L489.93,137.19 L489.43,137.12 L488.94,137.03 L488.45,136.95 L487.95,136.86 L487.46,136.76 L486.96,136.66 L486.47,136.56 L485.98,136.45 L485.48,136.34 L484.99,136.23 L484.50,136.12 L484.00,136.00 L483.51,135.88 L483.02,135.77 L482.52,135.65 L482.03,135.53 L481.54,135.41 L481.04,135.30 L480.55,135.18 L480.06,135.07 L479.56,134.95 L479.07,134.80 L478.57,134.61 L478.08,134.41 L477.59,134.18 L477.09,133.92 L476.60,133.64 L476.11,133.35 L475.61,133.03 L475.12,132.70 L474.63,132.36 L474.13,132.01 L473.64,131.64 L473.15,131.27 L472.65,130.90 L472.16,130.51 L471.67,130.09 L471.17,129.55 L470.68,128.92 L470.18,128.21 L469.69,127.43 L469.20,126.60 L468.70,125.72 L468.21,124.82 L467.72,123.90 L467.22,122.98 L466.73,122.07 L466.24,121.18 L465.74,120.25 L465.25,119.25 L464.76,118.19 L464.26,117.04 L463.77,115.83 L463.28,114.53 L462.78,113.16 L462.29,111.71 L461.79,110.17 L461.30,108.55 L460.81,106.84 L460.31,105.04 L459.82,103.00 L459.33,100.29 L458.83,97.02 L458.34,93.28 L457.85,89.18 L457.35,84.85 L456.86,80.38 L456.37,75.90 L455.87,71.40 L455.38,66.14 L454.89,60.43 L454.39,54.81 L453.90,49.83 L453.40,45.87 L452.91,42.34 L452.42,39.29 L451.92,37.00 L451.43,35.74 L450.94,35.74 L450.44,36.92 L449.95,39.07 L449.46,41.95 L448.96,45.37 L448.47,49.59 L447.98,55.07 L447.48,61.26 L446.99,67.59 L446.50,73.49 L446.00,78.62 L445.51,83.69 L445.01,88.67 L444.52,93.44 L444.03,97.85 L443.53,101.77 L443.04,105.08 L442.55,108.03 L442.05,110.78 L441.56,113.35 L441.07,115.78 L440.57,118.08 L440.08,120.29 L439.59,122.43 L439.09,124.57 L438.60,126.70 L438.11,128.80 L437.61,130.82 L437.12,132.71 L436.62,134.44 L436.13,135.98 L435.64,137.43 L435.14,138.84 L434.65,140.16 L434.16,141.40 L433.66,142.52 L433.17,143.52 L432.68,144.38 L432.18,145.22 L431.69,146.07 L431.20,146.90 L430.70,147.71 L430.21,148.50 L429.72,149.25 L429.22,149.95 L428.73,150.61 L428.23,151.20 L427.74,151.72 L427.25,152.17 L426.75,152.52 L426.26,152.81 L425.77,153.10 L425.27,153.39 L424.78,153.67 L424.29,153.95 L423.79,154.23 L423.30,154.51 L422.81,154.78 L422.31,155.04 L421.82,155.30 L421.33,155.56 L420.83,155.81 L420.34,156.05 L419.84,156.28 L419.35,156.51 L418.86,156.73 L418.36,156.95 L417.87,157.15 L417.38,157.34 L416.88,157.53 L416.39,157.70 L415.90,157.86 L415.40,158.02 L414.91,158.16 L414.42,158.29 L413.92,158.40 L413.43,158.51 L412.94,158.59 L412.44,158.68 L411.95,158.76 L411.45,158.84 L410.96,158.93 L410.47,159.01 L409.97,159.09 L409.48,159.18 L408.99,159.26 L408.49,159.34 L408.00,159.42 L407.51,159.51 L407.01,159.59 L406.52,159.67 L406.03,159.75 L405.53,159.83 L405.04,159.91 L404.55,159.99 L404.05,160.07 L403.56,160.15 L403.06,160.22 L402.57,160.30 L402.08,160.38 L401.58,160.45 L401.09,160.53 L400.60,160.60 L400.10,160.68 L399.61,160.75 L399.12,160.82 L398.62,160.89 L398.13,160.96 L397.64,161.03 L397.14,161.10 L396.65,161.17 L396.16,161.23 L395.66,161.30 L395.17,161.36 L394.67,161.42 L394.18,161.48 L393.69,161.54 L393.19,161.60 L392.70,161.66 L392.21,161.72 L391.71,161.77 L391.22,161.82 L390.73,161.88 L390.23,161.93 L389.74,161.97 L389.25,162.02 L388.75,162.07 L388.26,162.11 L387.77,162.15 L387.27,162.20 L386.78,162.24 L386.29,162.28 L385.79,162.33 L385.30,162.37 L384.80,162.41 L384.31,162.45 L383.82,162.50 L383.32,162.54 L382.83,162.58 L382.34,162.62 L381.84,162.66 L381.35,162.70 L380.86,162.74 L380.36,162.78 L379.87,162.83 L379.38,162.87 L378.88,162.91 L378.39,162.95 L377.90,162.99 L377.40,163.03 L376.91,163.07 L376.41,163.11 L375.92,163.15 L375.43,163.19 L374.93,163.22 L374.44,163.26 L373.95,163.30 L373.45,163.34 L372.96,163.38 L372.47,163.42 L371.97,163.46 L371.48,163.49 L370.99,163.53 L370.49,163.57 L370.00,163.61 L369.51,163.65 L369.01,163.68 L368.52,163.72 L368.02,163.76 L367.53,163.80 L367.04,163.83 L366.54,163.87 L366.05,163.91 L365.56,163.94 L365.06,163.98 L364.57,164.02 L364.08,164.05 L363.58,164.09 L363.09,164.12 L362.60,164.16 L362.10,164.20 L361.61,164.23 L361.12,164.27 L360.62,164.30 L360.13,164.34 L359.63,164.38 L359.14,164.41 L358.65,164.45 L358.15,164.48 L357.66,164.52 L357.17,164.55 L356.67,164.59 L356.18,164.63 L355.69,164.66 L355.19,164.70 L354.70,164.73 L354.21,164.77 L353.71,164.80 L353.22,164.84 L352.73,164.87 L352.23,164.91 L351.74,164.94 L351.24,164.98 L350.75,165.01 L350.26,165.05 L349.76,165.08 L349.27,165.12 L348.78,165.15 L348.28,165.19 L347.79,165.22 L347.30,165.25 L346.80,165.29 L346.31,165.32 L345.82,165.36 L345.32,165.39 L344.83,165.42 L344.34,165.46 L343.84,165.49 L343.35,165.52 L342.85,165.55 L342.36,165.59 L341.87,165.62 L341.37,165.65 L340.88,165.68 L340.39,165.72 L339.89,165.75 L339.40,165.78" fill="none" stroke="#ff4040" stroke-width="1.2" stroke-linejoin="round" stroke-linecap="round" />
<path d="M536.32,-5.03 L535.82,13.45 L535.33,28.47 L534.84,38.34 L534.34,47.25 L533.85,55.01 L533.36,61.00 L532.86,64.80 L532.37,67.93 L531.88,70.87 L531.38,73.62 L530.89,76.16 L530.39,78.50 L529.90,80.63 L529.41,82.68 L528.91,84.73 L528.42,86.77 L527.93,88.76 L527.43,90.70 L526.94,92.57 L526.45,94.34 L525.95,95.99 L525.46,97.54 L524.97,99.05 L524.47,100.56 L523.98,102.06 L523.49,103.53 L522.99,104.97 L522.50,106.38 L522.00,107.76 L521.51,109.09 L521.02,110.36 L520.52,111.59 L520.03,112.75 L519.54,113.84 L519.04,114.86 L518.55,115.81 L518.06,116.73 L517.56,117.61 L517.07,118.47 L516.58,119.30 L516.08,120.11 L515.59,120.90 L515.10,121.67 L514.60,122.42 L514.11,123.16 L513.61,123.88 L513.12,124.59 L512.63,125.29 L512.13,126.01 L511.64,126.74 L511.15,127.49 L510.65,128.23 L510.16,128.96 L509.67,129.66 L509.17,130.32 L508.68,130.92 L508.19,131.46 L507.69,131.93 L507.20,132.30 L506.71,132.65 L506.21,132.99 L505.72,133.31 L505.22,133.62 L504.73,133.90 L504.24,134.17 L503.74,134.42 L503.25,134.64 L502.76,134.85 L502.26,135.03 L501.77,135.18 L501.28,135.31 L500.78,135.42 L500.29,135.53 L499.80,135.64 L499.30,135.75 L498.81,135.85 L498.32,135.96 L497.82,136.05 L497.33,136.13 L496.83,136.21 L496.34,136.27 L495.85,136.33 L495.35,136.36 L494.86,136.38 L494.37,136.38 L493.87,136.38 L493.38,136.36 L492.89,136.33 L492.39,136.30 L491.90,136.26 L491.41,136.20 L490.91,136.14 L490.42,136.08 L489.93,136.01 L489.43,135.93 L488.94,135.84 L488.45,135.75 L487.95,135.66 L487.46,135.56 L486.96,135.45 L486.47,135.34 L485.98,135.23 L485.48,135.12 L484.99,135.00 L484.50,134.88 L484.00,134.76 L483.51,134.64 L483.02,134.51 L482.52,134.39 L482.03,134.26 L481.54,134.14 L481.04,134.02 L480.55,133.90 L480.06,133.77 L479.56,133.65 L479.07,133.49 L478.57,133.30 L478.08,133.08 L477.59,132.84 L477.09,132.57 L476.60,132.28 L476.11,131.97 L475.61,131.65 L475.12,131.31 L474.63,130.95 L474.13,130.59 L473.64,130.21 L473.15,129.83 L472.65,129.44 L472.16,129.05 L471.67,128.61 L471.17,128.07 L470.68,127.45 L470.18,126.74 L469.69,125.96 L469.20,125.14 L468.70,124.27 L468.21,123.38 L467.72,122.47 L467.22,121.56 L466.73,120.66 L466.24,119.78 L465.74,118.86 L465.25,117.87 L464.76,116.81 L464.26,115.67 L463.77,114.46 L463.28,113.17 L462.78,111.80 L462.29,110.35 L461.79,108.82 L461.30,107.20 L460.81,105.50 L460.31,103.70 L459.82,101.65 L459.33,98.93 L458.83,95.60 L458.34,91.80 L457.85,87.63 L457.35,83.22 L456.86,78.67 L456.37,74.10 L455.87,69.50 L455.38,64.12 L454.89,58.27 L454.39,52.51 L453.90,47.41 L453.40,43.37 L452.91,39.77 L452.42,36.66 L451.92,34.33 L451.43,33.06 L450.94,33.08 L450.44,34.30 L449.95,36.50 L449.46,39.47 L448.96,42.96 L448.47,47.28 L447.98,52.88 L447.48,59.21 L446.99,65.68 L446.50,71.72 L446.00,76.96 L445.51,82.13 L445.01,87.23 L444.52,92.10 L444.03,96.60 L443.53,100.60 L443.04,103.96 L442.55,106.97 L442.05,109.78 L441.56,112.41 L441.07,114.88 L440.57,117.21 L440.08,119.43 L439.59,121.56 L439.09,123.66 L438.60,125.75 L438.11,127.80 L437.61,129.77 L437.12,131.61 L436.62,133.29 L436.13,134.79 L435.64,136.20 L435.14,137.56 L434.65,138.85 L434.16,140.06 L433.66,141.18 L433.17,142.18 L432.68,143.06 L432.18,143.94 L431.69,144.81 L431.20,145.68 L430.70,146.53 L430.21,147.36 L429.72,148.15 L429.22,148.90 L428.73,149.59 L428.23,150.22 L427.74,150.78 L427.25,151.25 L426.75,151.63 L426.26,151.94 L425.77,152.25 L425.27,152.55 L424.78,152.86 L424.29,153.16 L423.79,153.45 L423.30,153.74 L422.81,154.03 L422.31,154.31 L421.82,154.58 L421.33,154.85 L420.83,155.11 L420.34,155.36 L419.84,155.61 L419.35,155.85 L418.86,156.08 L418.36,156.30 L417.87,156.51 L417.38,156.71 L416.88,156.90 L416.39,157.09 L415.90,157.26 L415.40,157.41 L414.91,157.56 L414.42,157.70 L413.92,157.82 L413.43,157.92 L412.94,158.02 L412.44,158.11 L411.95,158.19 L411.45,158.28 L410.96,158.37 L410.47,158.46 L409.97,158.54 L409.48,158.63 L408.99,158.72 L408.49,158.81 L408.00,158.89 L407.51,158.98 L407.01,159.06 L406.52,159.15 L406.03,159.23 L405.53,159.32 L405.04,159.40 L404.55,159.49 L404.05,159.57 L403.56,159.65 L403.06,159.73 L402.57,159.82 L402.08,159.90 L401.58,159.98 L401.09,160.06 L400.60,160.13 L400.10,160.21 L399.61,160.29 L399.12,160.36 L398.62,160.44 L398.13,160.51 L397.64,160.58 L397.14,160.66 L396.65,160.73 L396.16,160.80 L395.66,160.86 L395.17,160.93 L394.67,161.00 L394.18,161.06 L393.69,161.13 L393.19,161.19 L392.70,161.25 L392.21,161.31 L391.71,161.37 L391.22,161.42 L390.73,161.48 L390.23,161.53 L389.74,161.58 L389.25,161.63 L388.75,161.68 L388.26,161.73 L387.77,161.77 L387.27,161.82 L386.78,161.87 L386.29,161.91 L385.79,161.96 L385.30,162.00 L384.80,162.05 L384.31,162.09 L383.82,162.14 L383.32,162.18 L382.83,162.23 L382.34,162.27 L381.84,162.32 L381.35,162.36 L380.86,162.41 L380.36,162.45 L379.87,162.49 L379.38,162.54 L378.88,162.58 L378.39,162.62 L377.90,162.67 L377.40,162.71 L376.91,162.75 L376.41,162.80 L375.92,162.84 L375.43,162.88 L374.93,162.92 L374.44,162.96 L373.95,163.01 L373.45,163.05 L372.96,163.09 L372.47,163.13 L371.97,163.17 L371.48,163.21 L370.99,163.25 L370.49,163.29 L370.00,163.33 L369.51,163.37 L369.01,163.42 L368.52,163.46 L368.02,163.50 L367.53,163.54 L367.04,163.57 L366.54,163.61 L366.05,163.65 L365.56,163.69 L365.06,163.73 L364.57,163.77 L364.08,163.81 L363.58,163.85 L363.09,163.89 L362.60,163.93 L362.10,163.97 L361.61,164.00 L361.12,164.04 L360.62,164.08 L360.13,164.12 L359.63,164.16 L359.14,164.20 L358.65,164.24 L358.15,164.27 L357.66,164.31 L357.17,164.35 L356.67,164.39 L356.18,164.43 L355.69,164.47 L355.19,164.50 L354.70,164.54 L354.21,164.58 L353.71,164.62 L353.22,164.66 L352.73,164.69 L352.23,164.73 L351.74,164.77 L351.24,164.81 L350.75,164.84 L350.26,164.88 L349.76,164.92 L349.27,164.96 L348.78,164.99 L348.28,165.03 L347.79,165.07 L347.30,165.10 L346.80,165.14 L346.31,165.18 L345.82,165.21 L345.32,165.25 L344.83,165.28 L344.34,165.32 L343.84,165.36 L343.35,165.39 L342.85,165.43 L342.36,165.46 L341.87,165.50 L341.37,165.53 L340.88,165.57 L340.39,165.60 L339.89,165.64 L339.40,165.67" fill="none" stroke="#444444" stroke-width="1.2" stroke-linejoin="round" stroke-linecap="round" />
</g>
<rect x="339.40" y="10.80" width="196.10" height="158.30" fill="none" stroke="#5c5c5c" stroke-width="1.1"/>
<line x1="339.40" y1="169.10" x2="339.40" y2="172.10" stroke="#5c5c5c" stroke-width="1.0" />
<text x="339.40" y="183.60" font-size="11.8" text-anchor="middle" fill="#151515" >300</text>
<line x1="388.42" y1="169.10" x2="388.42" y2="172.10" stroke="#5c5c5c" stroke-width="1.0" />
<text x="388.42" y="183.60" font-size="11.8" text-anchor="middle" fill="#151515" >0</text>
<line x1="437.45" y1="169.10" x2="437.45" y2="172.10" stroke="#5c5c5c" stroke-width="1.0" />
<text x="437.45" y="183.60" font-size="11.8" text-anchor="middle" fill="#151515" >-300</text>
<line x1="486.48" y1="169.10" x2="486.48" y2="172.10" stroke="#5c5c5c" stroke-width="1.0" />
<text x="486.48" y="183.60" font-size="11.8" text-anchor="middle" fill="#151515" >-600</text>
<line x1="535.50" y1="169.10" x2="535.50" y2="172.10" stroke="#5c5c5c" stroke-width="1.0" />
<text x="535.50" y="183.60" font-size="11.8" text-anchor="middle" fill="#151515" >-900</text>
<line x1="363.91" y1="169.10" x2="363.91" y2="171.10" stroke="#5c5c5c" stroke-width="1.0" />
<line x1="412.94" y1="169.10" x2="412.94" y2="171.10" stroke="#5c5c5c" stroke-width="1.0" />
<line x1="461.96" y1="169.10" x2="461.96" y2="171.10" stroke="#5c5c5c" stroke-width="1.0" />
<line x1="510.99" y1="169.10" x2="510.99" y2="171.10" stroke="#5c5c5c" stroke-width="1.0" />
<line x1="336.40" y1="169.10" x2="339.40" y2="169.10" stroke="#5c5c5c" stroke-width="1.0" />
<text x="334.00" y="172.30" font-size="11.8" text-anchor="end" fill="#151515" >0</text>
<line x1="336.40" y1="116.33" x2="339.40" y2="116.33" stroke="#5c5c5c" stroke-width="1.0" />
<text x="334.00" y="119.53" font-size="11.8" text-anchor="end" fill="#151515" >1</text>
<line x1="336.40" y1="63.57" x2="339.40" y2="63.57" stroke="#5c5c5c" stroke-width="1.0" />
<text x="334.00" y="66.77" font-size="11.8" text-anchor="end" fill="#151515" >2</text>
<line x1="336.40" y1="10.80" x2="339.40" y2="10.80" stroke="#5c5c5c" stroke-width="1.0" />
<text x="334.00" y="14.00" font-size="11.8" text-anchor="end" fill="#151515" >3</text>
<line x1="337.40" y1="142.72" x2="339.40" y2="142.72" stroke="#5c5c5c" stroke-width="1.0" />
<line x1="337.40" y1="89.95" x2="339.40" y2="89.95" stroke="#5c5c5c" stroke-width="1.0" />
<line x1="337.40" y1="37.18" x2="339.40" y2="37.18" stroke="#5c5c5c" stroke-width="1.0" />
<text x="437.70" y="203.30" font-size="12.2" text-anchor="middle" fill="#151515" >Potential (mV) vs Ag/AgCl</text>
<text transform="translate(313.0,92.6) rotate(-90)" font-size="12.2" text-anchor="middle" fill="#151515">Current (<tspan font-family="Liberation Serif, serif">&#956;</tspan>A)</text>
<text x="293.60" y="19.60" font-size="14.4" text-anchor="start" fill="#151515" >(c)</text>
<line x1="426.00" y1="17.50" x2="426.00" y2="142.00" stroke="#b4b4b4" stroke-width="1.1" />
<path d="M424.7,140.8 L426.0,145.2 L427.3,140.8 Z" fill="#444"/>
<line x1="350.20" y1="21.50" x2="368.70" y2="21.50" stroke="#444444" stroke-width="1.5" />
<text x="371.60" y="24.80" font-size="8.7" text-anchor="start" fill="#151515" >0.2 <tspan font-family="Liberation Serif, serif">&#956;</tspan>M</text>
<line x1="350.20" y1="32.50" x2="368.70" y2="32.50" stroke="#ff5050" stroke-width="1.5" />
<text x="371.60" y="35.64" font-size="8.7" text-anchor="start" fill="#151515" >0.25 <tspan font-family="Liberation Serif, serif">&#956;</tspan>M</text>
<line x1="350.20" y1="43.50" x2="368.70" y2="43.50" stroke="#5a6cff" stroke-width="1.5" />
<text x="371.60" y="46.48" font-size="8.7" text-anchor="start" fill="#151515" >0.3 <tspan font-family="Liberation Serif, serif">&#956;</tspan>M</text>
<line x1="350.20" y1="54.50" x2="368.70" y2="54.50" stroke="#ff80ff" stroke-width="1.5" />
<text x="371.60" y="57.32" font-size="8.7" text-anchor="start" fill="#151515" >0.35 <tspan font-family="Liberation Serif, serif">&#956;</tspan>M</text>
<line x1="350.20" y1="65.50" x2="368.70" y2="65.50" stroke="#3aa85a" stroke-width="1.5" />
<text x="371.60" y="68.16" font-size="8.7" text-anchor="start" fill="#151515" >0.4 <tspan font-family="Liberation Serif, serif">&#956;</tspan>M</text>
<line x1="350.20" y1="75.50" x2="368.70" y2="75.50" stroke="#4a4aa8" stroke-width="1.5" />
<text x="371.60" y="79.00" font-size="8.7" text-anchor="start" fill="#151515" >0.6 <tspan font-family="Liberation Serif, serif">&#956;</tspan>M</text>
<line x1="350.20" y1="86.50" x2="368.70" y2="86.50" stroke="#b866ff" stroke-width="1.5" />
<text x="371.60" y="89.84" font-size="8.7" text-anchor="start" fill="#151515" >0.8 <tspan font-family="Liberation Serif, serif">&#956;</tspan>M</text>
<line x1="350.20" y1="97.50" x2="368.70" y2="97.50" stroke="#cc55b0" stroke-width="1.5" />
<text x="371.60" y="100.68" font-size="8.7" text-anchor="start" fill="#151515" >1 <tspan font-family="Liberation Serif, serif">&#956;</tspan>M</text>
<line x1="350.20" y1="108.50" x2="368.70" y2="108.50" stroke="#cc5555" stroke-width="1.5" />
<text x="371.60" y="111.52" font-size="8.7" text-anchor="start" fill="#151515" >2 <tspan font-family="Liberation Serif, serif">&#956;</tspan>M</text>
<line x1="350.20" y1="119.50" x2="368.70" y2="119.50" stroke="#aaa060" stroke-width="1.5" />
<text x="371.60" y="122.36" font-size="8.7" text-anchor="start" fill="#151515" >3 <tspan font-family="Liberation Serif, serif">&#956;</tspan>M</text>
<line x1="350.20" y1="130.50" x2="368.70" y2="130.50" stroke="#44ee55" stroke-width="1.5" />
<text x="371.60" y="133.20" font-size="8.7" text-anchor="start" fill="#151515" >4 <tspan font-family="Liberation Serif, serif">&#956;</tspan>M</text>
<line x1="350.20" y1="140.50" x2="368.70" y2="140.50" stroke="#44bbbb" stroke-width="1.5" />
<text x="371.60" y="144.04" font-size="8.7" text-anchor="start" fill="#151515" >5 <tspan font-family="Liberation Serif, serif">&#956;</tspan>M</text>
<rect x="339.20" y="226.60" width="196.10" height="158.80" fill="none" stroke="#5c5c5c" stroke-width="1.1"/>
<line x1="339.00" y1="385.40" x2="339.00" y2="388.40" stroke="#5c5c5c" stroke-width="1.0" />
<text x="339.00" y="399.80" font-size="11.8" text-anchor="middle" fill="#151515" >0</text>
<line x1="374.73" y1="385.40" x2="374.73" y2="388.40" stroke="#5c5c5c" stroke-width="1.0" />
<text x="374.73" y="399.80" font-size="11.8" text-anchor="middle" fill="#151515" >1</text>
<line x1="410.45" y1="385.40" x2="410.45" y2="388.40" stroke="#5c5c5c" stroke-width="1.0" />
<text x="410.45" y="399.80" font-size="11.8" text-anchor="middle" fill="#151515" >2</text>
<line x1="446.18" y1="385.40" x2="446.18" y2="388.40" stroke="#5c5c5c" stroke-width="1.0" />
<text x="446.18" y="399.80" font-size="11.8" text-anchor="middle" fill="#151515" >3</text>
<line x1="481.91" y1="385.40" x2="481.91" y2="388.40" stroke="#5c5c5c" stroke-width="1.0" />
<text x="481.91" y="399.80" font-size="11.8" text-anchor="middle" fill="#151515" >4</text>
<line x1="517.64" y1="385.40" x2="517.64" y2="388.40" stroke="#5c5c5c" stroke-width="1.0" />
<text x="517.64" y="399.80" font-size="11.8" text-anchor="middle" fill="#151515" >5</text>
<line x1="356.86" y1="385.40" x2="356.86" y2="387.40" stroke="#5c5c5c" stroke-width="1.0" />
<line x1="392.59" y1="385.40" x2="392.59" y2="387.40" stroke="#5c5c5c" stroke-width="1.0" />
<line x1="428.32" y1="385.40" x2="428.32" y2="387.40" stroke="#5c5c5c" stroke-width="1.0" />
<line x1="464.05" y1="385.40" x2="464.05" y2="387.40" stroke="#5c5c5c" stroke-width="1.0" />
<line x1="499.77" y1="385.40" x2="499.77" y2="387.40" stroke="#5c5c5c" stroke-width="1.0" />
<line x1="336.20" y1="385.40" x2="339.20" y2="385.40" stroke="#5c5c5c" stroke-width="1.0" />
<text x="334.00" y="388.60" font-size="11.8" text-anchor="end" fill="#151515" >0</text>
<line x1="336.20" y1="332.47" x2="339.20" y2="332.47" stroke="#5c5c5c" stroke-width="1.0" />
<text x="334.00" y="335.67" font-size="11.8" text-anchor="end" fill="#151515" >1</text>
<line x1="336.20" y1="279.53" x2="339.20" y2="279.53" stroke="#5c5c5c" stroke-width="1.0" />
<text x="334.00" y="282.73" font-size="11.8" text-anchor="end" fill="#151515" >2</text>
<line x1="336.20" y1="226.60" x2="339.20" y2="226.60" stroke="#5c5c5c" stroke-width="1.0" />
<text x="334.00" y="229.80" font-size="11.8" text-anchor="end" fill="#151515" >3</text>
<line x1="337.20" y1="358.93" x2="339.20" y2="358.93" stroke="#5c5c5c" stroke-width="1.0" />
<line x1="337.20" y1="306.00" x2="339.20" y2="306.00" stroke="#5c5c5c" stroke-width="1.0" />
<line x1="337.20" y1="253.07" x2="339.20" y2="253.07" stroke="#5c5c5c" stroke-width="1.0" />
<text x="436.00" y="420.90" font-size="12" text-anchor="middle" fill="#151515" >H<tspan font-size="8" dy="3.5">2</tspan><tspan dy="-3.5">O</tspan><tspan font-size="8" dy="3.5">2</tspan><tspan dy="-3.5"> Concentration (<tspan font-family="Liberation Serif, serif">&#956;</tspan>M)</tspan></text>
<text transform="translate(318.6,316.4) rotate(-90)" font-size="12" text-anchor="middle" fill="#151515">DPV peak current (<tspan font-family="Liberation Serif, serif">&#956;</tspan>A)</text>
<text x="293.60" y="222.60" font-size="14.4" text-anchor="start" fill="#151515" >(d)</text>
<rect x="365.8" y="229.5" width="159.8" height="33.7" fill="#ffffff"/>
<line x1="365.80" y1="229.50" x2="525.60" y2="229.50" stroke="#d9d9d9" stroke-width="0.8" />
<line x1="365.80" y1="241.40" x2="525.60" y2="241.40" stroke="#d9d9d9" stroke-width="0.8" />
<line x1="365.80" y1="253.20" x2="525.60" y2="253.20" stroke="#d9d9d9" stroke-width="0.8" />
<line x1="365.80" y1="229.50" x2="365.80" y2="263.20" stroke="#d9d9d9" stroke-width="0.8" />
<line x1="424.90" y1="229.50" x2="424.90" y2="263.20" stroke="#d9d9d9" stroke-width="0.8" />
<line x1="466.40" y1="229.50" x2="466.40" y2="263.20" stroke="#d9d9d9" stroke-width="0.8" />
<text x="427.60" y="237.00" font-size="8.2" text-anchor="start" fill="#2a2a2a" >Value</text>
<text x="468.80" y="237.00" font-size="8.2" text-anchor="start" fill="#2a2a2a" >Standard Error</text>
<text x="368.50" y="249.60" font-size="8.2" text-anchor="start" fill="#2a2a2a" >Intercept</text>
<text x="368.50" y="261.40" font-size="8.2" text-anchor="start" fill="#2a2a2a" >Slope</text>
<text x="464.00" y="249.60" font-size="8.2" text-anchor="end" fill="#2a2a2a" >2.86645</text>
<text x="464.00" y="261.40" font-size="8.2" text-anchor="end" fill="#2a2a2a" >-1.90522</text>
<text x="523.60" y="249.60" font-size="8.2" text-anchor="end" fill="#2a2a2a" >0.12381</text>
<text x="523.60" y="261.40" font-size="8.2" text-anchor="end" fill="#2a2a2a" >0.26973</text>
<rect x="345.5" y="349" width="135" height="31.5" fill="#ffffff"/>
<line x1="345.50" y1="360.10" x2="480.50" y2="360.10" stroke="#d9d9d9" stroke-width="0.8" />
<line x1="345.50" y1="371.00" x2="480.50" y2="371.00" stroke="#d9d9d9" stroke-width="0.8" />
<line x1="398.50" y1="349.50" x2="398.50" y2="380.50" stroke="#d9d9d9" stroke-width="0.8" />
<line x1="428.50" y1="349.50" x2="428.50" y2="380.50" stroke="#d9d9d9" stroke-width="0.8" />
<text x="400.40" y="356.60" font-size="7.4" text-anchor="start" fill="#2a2a2a" >Value</text>
<text x="430.60" y="356.60" font-size="7.4" text-anchor="start" fill="#2a2a2a" >Standard Error</text>
<text x="346.90" y="367.50" font-size="7.4" text-anchor="start" fill="#2a2a2a" >Intercept</text>
<text x="346.90" y="378.60" font-size="7.4" text-anchor="start" fill="#2a2a2a" >Slope</text>
<text x="424.50" y="367.50" font-size="7.4" text-anchor="end" fill="#2a2a2a" >1.369</text>
<text x="424.50" y="378.60" font-size="7.4" text-anchor="end" fill="#2a2a2a" >-0.154</text>
<text x="480.00" y="367.50" font-size="7.4" text-anchor="end" fill="#2a2a2a" >0.0304</text>
<text x="480.00" y="378.60" font-size="7.4" text-anchor="end" fill="#2a2a2a" >0.00917</text>
<line x1="345.68" y1="252.53" x2="367.58" y2="314.35" stroke="#ff3030" stroke-width="1.1" />
<line x1="374.73" y1="321.09" x2="519.42" y2="354.10" stroke="#ff3030" stroke-width="1.1" />
<rect x="344.35" y="246.82" width="3.6" height="3.6" fill="#111"/>
<rect x="346.13" y="250.79" width="3.6" height="3.6" fill="#111"/>
<rect x="347.92" y="261.96" width="3.6" height="3.6" fill="#111"/>
<rect x="349.70" y="273.60" width="3.6" height="3.6" fill="#111"/>
<rect x="351.49" y="282.87" width="3.6" height="3.6" fill="#111"/>
<rect x="358.64" y="296.79" width="3.6" height="3.6" fill="#111"/>
<rect x="365.78" y="305.74" width="3.6" height="3.6" fill="#111"/>
<rect x="372.93" y="321.40" width="3.6" height="3.6" fill="#111"/>
<rect x="408.65" y="326.27" width="3.6" height="3.6" fill="#111"/>
<rect x="444.38" y="334.42" width="3.6" height="3.6" fill="#111"/>
<rect x="480.11" y="344.85" width="3.6" height="3.6" fill="#111"/>
<rect x="515.84" y="352.37" width="3.6" height="3.6" fill="#111"/>
<line x1="377.70" y1="270.90" x2="361.00" y2="280.40" stroke="#4a86d8" stroke-width="0.8" />
<path d="M358.3,281.9 L362.2,278.0 L363.2,281.0 Z" fill="#4a86d8"/>
<line x1="391.00" y1="350.00" x2="404.00" y2="332.20" stroke="#4a86d8" stroke-width="0.8" />
<path d="M405.8,329.6 L401.9,332.3 L405.0,334.2 Z" fill="#4a86d8"/>
</svg></body></html>
